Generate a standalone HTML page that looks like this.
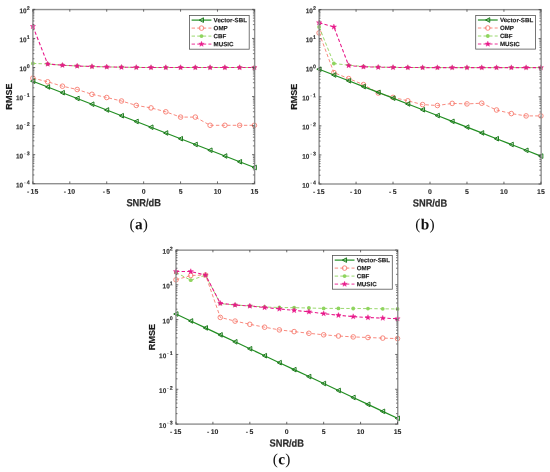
<!DOCTYPE html>
<html><head><meta charset="utf-8"><title>RMSE vs SNR</title>
<style>html,body{margin:0;padding:0;background:#fff;}body{width:550px;height:472px;overflow:hidden;}svg{display:block;}</style>
</head><body>
<svg width="550" height="472" viewBox="0 0 550 472"><rect width="550" height="472" fill="#fff"/><polyline points="32.90,78.10 47.67,81.80 62.43,86.20 77.20,89.50 91.97,94.30 106.73,97.50 121.50,101.00 136.27,105.40 151.03,107.90 165.80,111.80 180.57,117.10 195.33,117.10 210.10,125.30 224.87,125.30 239.63,125.30 254.40,125.30" fill="none" stroke="#f77d70" stroke-width="0.9" stroke-dasharray="3.4 2.2"/><circle cx="32.90" cy="78.10" r="2.3" fill="none" stroke="#f77d70" stroke-width="0.9"/><circle cx="47.67" cy="81.80" r="2.3" fill="none" stroke="#f77d70" stroke-width="0.9"/><circle cx="62.43" cy="86.20" r="2.3" fill="none" stroke="#f77d70" stroke-width="0.9"/><circle cx="77.20" cy="89.50" r="2.3" fill="none" stroke="#f77d70" stroke-width="0.9"/><circle cx="91.97" cy="94.30" r="2.3" fill="none" stroke="#f77d70" stroke-width="0.9"/><circle cx="106.73" cy="97.50" r="2.3" fill="none" stroke="#f77d70" stroke-width="0.9"/><circle cx="121.50" cy="101.00" r="2.3" fill="none" stroke="#f77d70" stroke-width="0.9"/><circle cx="136.27" cy="105.40" r="2.3" fill="none" stroke="#f77d70" stroke-width="0.9"/><circle cx="151.03" cy="107.90" r="2.3" fill="none" stroke="#f77d70" stroke-width="0.9"/><circle cx="165.80" cy="111.80" r="2.3" fill="none" stroke="#f77d70" stroke-width="0.9"/><circle cx="180.57" cy="117.10" r="2.3" fill="none" stroke="#f77d70" stroke-width="0.9"/><circle cx="195.33" cy="117.10" r="2.3" fill="none" stroke="#f77d70" stroke-width="0.9"/><circle cx="210.10" cy="125.30" r="2.3" fill="none" stroke="#f77d70" stroke-width="0.9"/><circle cx="224.87" cy="125.30" r="2.3" fill="none" stroke="#f77d70" stroke-width="0.9"/><circle cx="239.63" cy="125.30" r="2.3" fill="none" stroke="#f77d70" stroke-width="0.9"/><circle cx="254.40" cy="125.30" r="2.3" fill="none" stroke="#f77d70" stroke-width="0.9"/><polyline points="32.90,63.40 47.67,64.00 62.43,65.20 77.20,66.00 91.97,66.50 106.73,66.90 121.50,67.20 136.27,67.40 151.03,67.50 165.80,67.50 180.57,67.50 195.33,67.50 210.10,67.50 224.87,67.50 239.63,67.50 254.40,67.50" fill="none" stroke="#8fd45e" stroke-width="0.9" stroke-dasharray="3.4 2.2"/><circle cx="32.90" cy="63.40" r="1.9" fill="#8fd45e"/><circle cx="47.67" cy="64.00" r="1.9" fill="#8fd45e"/><circle cx="62.43" cy="65.20" r="1.9" fill="#8fd45e"/><circle cx="77.20" cy="66.00" r="1.9" fill="#8fd45e"/><circle cx="91.97" cy="66.50" r="1.9" fill="#8fd45e"/><circle cx="106.73" cy="66.90" r="1.9" fill="#8fd45e"/><circle cx="121.50" cy="67.20" r="1.9" fill="#8fd45e"/><circle cx="136.27" cy="67.40" r="1.9" fill="#8fd45e"/><circle cx="151.03" cy="67.50" r="1.9" fill="#8fd45e"/><circle cx="165.80" cy="67.50" r="1.9" fill="#8fd45e"/><circle cx="180.57" cy="67.50" r="1.9" fill="#8fd45e"/><circle cx="195.33" cy="67.50" r="1.9" fill="#8fd45e"/><circle cx="210.10" cy="67.50" r="1.9" fill="#8fd45e"/><circle cx="224.87" cy="67.50" r="1.9" fill="#8fd45e"/><circle cx="239.63" cy="67.50" r="1.9" fill="#8fd45e"/><circle cx="254.40" cy="67.50" r="1.9" fill="#8fd45e"/><polyline points="32.90,26.40 47.67,64.00 62.43,65.20 77.20,66.00 91.97,66.50 106.73,66.90 121.50,67.20 136.27,67.40 151.03,67.50 165.80,67.50 180.57,67.50 195.33,67.50 210.10,67.50 224.87,67.50 239.63,67.50 254.40,67.50" fill="none" stroke="#e8198a" stroke-width="1.1" stroke-dasharray="3.4 2.2"/><path d="M32.90,23.60 L33.59,25.45 L35.56,25.53 L34.02,26.76 L34.55,28.67 L32.90,27.58 L31.25,28.67 L31.78,26.76 L30.24,25.53 L32.21,25.45Z" fill="#e8198a" stroke="#e8198a" stroke-width="0.4"/><path d="M47.67,61.20 L48.36,63.05 L50.33,63.13 L48.79,64.36 L49.31,66.27 L47.67,65.18 L46.02,66.27 L46.55,64.36 L45.00,63.13 L46.98,63.05Z" fill="#e8198a" stroke="#e8198a" stroke-width="0.4"/><path d="M62.43,62.40 L63.12,64.25 L65.10,64.33 L63.55,65.56 L64.08,67.47 L62.43,66.38 L60.79,67.47 L61.31,65.56 L59.77,64.33 L61.74,64.25Z" fill="#e8198a" stroke="#e8198a" stroke-width="0.4"/><path d="M77.20,63.20 L77.89,65.05 L79.86,65.13 L78.32,66.36 L78.85,68.27 L77.20,67.18 L75.55,68.27 L76.08,66.36 L74.54,65.13 L76.51,65.05Z" fill="#e8198a" stroke="#e8198a" stroke-width="0.4"/><path d="M91.97,63.70 L92.66,65.55 L94.63,65.63 L93.09,66.86 L93.61,68.77 L91.97,67.68 L90.32,68.77 L90.85,66.86 L89.30,65.63 L91.28,65.55Z" fill="#e8198a" stroke="#e8198a" stroke-width="0.4"/><path d="M106.73,64.10 L107.42,65.95 L109.40,66.03 L107.85,67.26 L108.38,69.17 L106.73,68.08 L105.09,69.17 L105.61,67.26 L104.07,66.03 L106.04,65.95Z" fill="#e8198a" stroke="#e8198a" stroke-width="0.4"/><path d="M121.50,64.40 L122.19,66.25 L124.16,66.33 L122.62,67.56 L123.15,69.47 L121.50,68.38 L119.85,69.47 L120.38,67.56 L118.84,66.33 L120.81,66.25Z" fill="#e8198a" stroke="#e8198a" stroke-width="0.4"/><path d="M136.27,64.60 L136.96,66.45 L138.93,66.53 L137.39,67.76 L137.91,69.67 L136.27,68.58 L134.62,69.67 L135.15,67.76 L133.60,66.53 L135.58,66.45Z" fill="#e8198a" stroke="#e8198a" stroke-width="0.4"/><path d="M151.03,64.70 L151.72,66.55 L153.70,66.63 L152.15,67.86 L152.68,69.77 L151.03,68.68 L149.39,69.77 L149.91,67.86 L148.37,66.63 L150.34,66.55Z" fill="#e8198a" stroke="#e8198a" stroke-width="0.4"/><path d="M165.80,64.70 L166.49,66.55 L168.46,66.63 L166.92,67.86 L167.45,69.77 L165.80,68.68 L164.15,69.77 L164.68,67.86 L163.14,66.63 L165.11,66.55Z" fill="#e8198a" stroke="#e8198a" stroke-width="0.4"/><path d="M180.57,64.70 L181.26,66.55 L183.23,66.63 L181.69,67.86 L182.21,69.77 L180.57,68.68 L178.92,69.77 L179.45,67.86 L177.90,66.63 L179.88,66.55Z" fill="#e8198a" stroke="#e8198a" stroke-width="0.4"/><path d="M195.33,64.70 L196.02,66.55 L198.00,66.63 L196.45,67.86 L196.98,69.77 L195.33,68.68 L193.69,69.77 L194.21,67.86 L192.67,66.63 L194.64,66.55Z" fill="#e8198a" stroke="#e8198a" stroke-width="0.4"/><path d="M210.10,64.70 L210.79,66.55 L212.76,66.63 L211.22,67.86 L211.75,69.77 L210.10,68.68 L208.45,69.77 L208.98,67.86 L207.44,66.63 L209.41,66.55Z" fill="#e8198a" stroke="#e8198a" stroke-width="0.4"/><path d="M224.87,64.70 L225.56,66.55 L227.53,66.63 L225.99,67.86 L226.51,69.77 L224.87,68.68 L223.22,69.77 L223.75,67.86 L222.20,66.63 L224.18,66.55Z" fill="#e8198a" stroke="#e8198a" stroke-width="0.4"/><path d="M239.63,64.70 L240.32,66.55 L242.30,66.63 L240.75,67.86 L241.28,69.77 L239.63,68.68 L237.99,69.77 L238.51,67.86 L236.97,66.63 L238.94,66.55Z" fill="#e8198a" stroke="#e8198a" stroke-width="0.4"/><path d="M254.40,64.70 L255.09,66.55 L257.06,66.63 L255.52,67.86 L256.05,69.77 L254.40,68.68 L252.75,69.77 L253.28,67.86 L251.74,66.63 L253.71,66.55Z" fill="#e8198a" stroke="#e8198a" stroke-width="0.4"/><polyline points="32.90,81.20 47.67,86.95 62.43,92.71 77.20,98.46 91.97,104.21 106.73,109.97 121.50,115.72 136.27,121.47 151.03,127.23 165.80,132.98 180.57,138.73 195.33,144.49 210.10,150.24 224.87,155.99 239.63,161.75 254.40,167.50" fill="none" stroke="#228e22" stroke-width="1.2"/><path d="M30.60,81.20 L34.85,78.90 L34.85,83.50Z" fill="none" stroke="#1d7a1d" stroke-width="1.0"/><path d="M45.37,86.95 L49.62,84.65 L49.62,89.25Z" fill="none" stroke="#1d7a1d" stroke-width="1.0"/><path d="M60.13,92.71 L64.39,90.41 L64.39,95.01Z" fill="none" stroke="#1d7a1d" stroke-width="1.0"/><path d="M74.90,98.46 L79.15,96.16 L79.15,100.76Z" fill="none" stroke="#1d7a1d" stroke-width="1.0"/><path d="M89.67,104.21 L93.92,101.91 L93.92,106.51Z" fill="none" stroke="#1d7a1d" stroke-width="1.0"/><path d="M104.43,109.97 L108.69,107.67 L108.69,112.27Z" fill="none" stroke="#1d7a1d" stroke-width="1.0"/><path d="M119.20,115.72 L123.45,113.42 L123.45,118.02Z" fill="none" stroke="#1d7a1d" stroke-width="1.0"/><path d="M133.97,121.47 L138.22,119.17 L138.22,123.77Z" fill="none" stroke="#1d7a1d" stroke-width="1.0"/><path d="M148.73,127.23 L152.99,124.93 L152.99,129.53Z" fill="none" stroke="#1d7a1d" stroke-width="1.0"/><path d="M163.50,132.98 L167.76,130.68 L167.76,135.28Z" fill="none" stroke="#1d7a1d" stroke-width="1.0"/><path d="M178.27,138.73 L182.52,136.43 L182.52,141.03Z" fill="none" stroke="#1d7a1d" stroke-width="1.0"/><path d="M193.03,144.49 L197.29,142.19 L197.29,146.79Z" fill="none" stroke="#1d7a1d" stroke-width="1.0"/><path d="M207.80,150.24 L212.06,147.94 L212.06,152.54Z" fill="none" stroke="#1d7a1d" stroke-width="1.0"/><path d="M222.57,155.99 L226.82,153.69 L226.82,158.29Z" fill="none" stroke="#1d7a1d" stroke-width="1.0"/><path d="M237.33,161.75 L241.59,159.45 L241.59,164.05Z" fill="none" stroke="#1d7a1d" stroke-width="1.0"/><path d="M252.10,167.50 L256.36,165.20 L256.36,169.80Z" fill="none" stroke="#1d7a1d" stroke-width="1.0"/><rect x="32.90" y="9.55" width="221.75" height="174.15" fill="none" stroke="#909090" stroke-width="1.4"/><line x1="32.90" y1="183.70" x2="32.90" y2="181.40" stroke="#444" stroke-width="0.8"/><line x1="32.90" y1="9.40" x2="32.90" y2="11.70" stroke="#444" stroke-width="0.8"/><line x1="69.82" y1="183.70" x2="69.82" y2="181.40" stroke="#444" stroke-width="0.8"/><line x1="69.82" y1="9.40" x2="69.82" y2="11.70" stroke="#444" stroke-width="0.8"/><line x1="106.73" y1="183.70" x2="106.73" y2="181.40" stroke="#444" stroke-width="0.8"/><line x1="106.73" y1="9.40" x2="106.73" y2="11.70" stroke="#444" stroke-width="0.8"/><line x1="143.65" y1="183.70" x2="143.65" y2="181.40" stroke="#444" stroke-width="0.8"/><line x1="143.65" y1="9.40" x2="143.65" y2="11.70" stroke="#444" stroke-width="0.8"/><line x1="180.57" y1="183.70" x2="180.57" y2="181.40" stroke="#444" stroke-width="0.8"/><line x1="180.57" y1="9.40" x2="180.57" y2="11.70" stroke="#444" stroke-width="0.8"/><line x1="217.48" y1="183.70" x2="217.48" y2="181.40" stroke="#444" stroke-width="0.8"/><line x1="217.48" y1="9.40" x2="217.48" y2="11.70" stroke="#444" stroke-width="0.8"/><line x1="254.40" y1="183.70" x2="254.40" y2="181.40" stroke="#444" stroke-width="0.8"/><line x1="254.40" y1="9.40" x2="254.40" y2="11.70" stroke="#444" stroke-width="0.8"/><line x1="32.90" y1="183.70" x2="35.20" y2="183.70" stroke="#444" stroke-width="0.8"/><line x1="254.40" y1="183.70" x2="252.10" y2="183.70" stroke="#444" stroke-width="0.8"/><line x1="32.90" y1="174.96" x2="34.40" y2="174.96" stroke="#444" stroke-width="0.7"/><line x1="254.40" y1="174.96" x2="252.90" y2="174.96" stroke="#444" stroke-width="0.7"/><line x1="32.90" y1="169.84" x2="34.40" y2="169.84" stroke="#444" stroke-width="0.7"/><line x1="254.40" y1="169.84" x2="252.90" y2="169.84" stroke="#444" stroke-width="0.7"/><line x1="32.90" y1="166.21" x2="34.40" y2="166.21" stroke="#444" stroke-width="0.7"/><line x1="254.40" y1="166.21" x2="252.90" y2="166.21" stroke="#444" stroke-width="0.7"/><line x1="32.90" y1="163.39" x2="34.40" y2="163.39" stroke="#444" stroke-width="0.7"/><line x1="254.40" y1="163.39" x2="252.90" y2="163.39" stroke="#444" stroke-width="0.7"/><line x1="32.90" y1="161.09" x2="34.40" y2="161.09" stroke="#444" stroke-width="0.7"/><line x1="254.40" y1="161.09" x2="252.90" y2="161.09" stroke="#444" stroke-width="0.7"/><line x1="32.90" y1="159.15" x2="34.40" y2="159.15" stroke="#444" stroke-width="0.7"/><line x1="254.40" y1="159.15" x2="252.90" y2="159.15" stroke="#444" stroke-width="0.7"/><line x1="32.90" y1="157.47" x2="34.40" y2="157.47" stroke="#444" stroke-width="0.7"/><line x1="254.40" y1="157.47" x2="252.90" y2="157.47" stroke="#444" stroke-width="0.7"/><line x1="32.90" y1="155.98" x2="34.40" y2="155.98" stroke="#444" stroke-width="0.7"/><line x1="254.40" y1="155.98" x2="252.90" y2="155.98" stroke="#444" stroke-width="0.7"/><line x1="32.90" y1="154.65" x2="35.20" y2="154.65" stroke="#444" stroke-width="0.8"/><line x1="254.40" y1="154.65" x2="252.10" y2="154.65" stroke="#444" stroke-width="0.8"/><line x1="32.90" y1="145.91" x2="34.40" y2="145.91" stroke="#444" stroke-width="0.7"/><line x1="254.40" y1="145.91" x2="252.90" y2="145.91" stroke="#444" stroke-width="0.7"/><line x1="32.90" y1="140.79" x2="34.40" y2="140.79" stroke="#444" stroke-width="0.7"/><line x1="254.40" y1="140.79" x2="252.90" y2="140.79" stroke="#444" stroke-width="0.7"/><line x1="32.90" y1="137.16" x2="34.40" y2="137.16" stroke="#444" stroke-width="0.7"/><line x1="254.40" y1="137.16" x2="252.90" y2="137.16" stroke="#444" stroke-width="0.7"/><line x1="32.90" y1="134.34" x2="34.40" y2="134.34" stroke="#444" stroke-width="0.7"/><line x1="254.40" y1="134.34" x2="252.90" y2="134.34" stroke="#444" stroke-width="0.7"/><line x1="32.90" y1="132.04" x2="34.40" y2="132.04" stroke="#444" stroke-width="0.7"/><line x1="254.40" y1="132.04" x2="252.90" y2="132.04" stroke="#444" stroke-width="0.7"/><line x1="32.90" y1="130.10" x2="34.40" y2="130.10" stroke="#444" stroke-width="0.7"/><line x1="254.40" y1="130.10" x2="252.90" y2="130.10" stroke="#444" stroke-width="0.7"/><line x1="32.90" y1="128.42" x2="34.40" y2="128.42" stroke="#444" stroke-width="0.7"/><line x1="254.40" y1="128.42" x2="252.90" y2="128.42" stroke="#444" stroke-width="0.7"/><line x1="32.90" y1="126.93" x2="34.40" y2="126.93" stroke="#444" stroke-width="0.7"/><line x1="254.40" y1="126.93" x2="252.90" y2="126.93" stroke="#444" stroke-width="0.7"/><line x1="32.90" y1="125.60" x2="35.20" y2="125.60" stroke="#444" stroke-width="0.8"/><line x1="254.40" y1="125.60" x2="252.10" y2="125.60" stroke="#444" stroke-width="0.8"/><line x1="32.90" y1="116.86" x2="34.40" y2="116.86" stroke="#444" stroke-width="0.7"/><line x1="254.40" y1="116.86" x2="252.90" y2="116.86" stroke="#444" stroke-width="0.7"/><line x1="32.90" y1="111.74" x2="34.40" y2="111.74" stroke="#444" stroke-width="0.7"/><line x1="254.40" y1="111.74" x2="252.90" y2="111.74" stroke="#444" stroke-width="0.7"/><line x1="32.90" y1="108.11" x2="34.40" y2="108.11" stroke="#444" stroke-width="0.7"/><line x1="254.40" y1="108.11" x2="252.90" y2="108.11" stroke="#444" stroke-width="0.7"/><line x1="32.90" y1="105.29" x2="34.40" y2="105.29" stroke="#444" stroke-width="0.7"/><line x1="254.40" y1="105.29" x2="252.90" y2="105.29" stroke="#444" stroke-width="0.7"/><line x1="32.90" y1="102.99" x2="34.40" y2="102.99" stroke="#444" stroke-width="0.7"/><line x1="254.40" y1="102.99" x2="252.90" y2="102.99" stroke="#444" stroke-width="0.7"/><line x1="32.90" y1="101.05" x2="34.40" y2="101.05" stroke="#444" stroke-width="0.7"/><line x1="254.40" y1="101.05" x2="252.90" y2="101.05" stroke="#444" stroke-width="0.7"/><line x1="32.90" y1="99.37" x2="34.40" y2="99.37" stroke="#444" stroke-width="0.7"/><line x1="254.40" y1="99.37" x2="252.90" y2="99.37" stroke="#444" stroke-width="0.7"/><line x1="32.90" y1="97.88" x2="34.40" y2="97.88" stroke="#444" stroke-width="0.7"/><line x1="254.40" y1="97.88" x2="252.90" y2="97.88" stroke="#444" stroke-width="0.7"/><line x1="32.90" y1="96.55" x2="35.20" y2="96.55" stroke="#444" stroke-width="0.8"/><line x1="254.40" y1="96.55" x2="252.10" y2="96.55" stroke="#444" stroke-width="0.8"/><line x1="32.90" y1="87.81" x2="34.40" y2="87.81" stroke="#444" stroke-width="0.7"/><line x1="254.40" y1="87.81" x2="252.90" y2="87.81" stroke="#444" stroke-width="0.7"/><line x1="32.90" y1="82.69" x2="34.40" y2="82.69" stroke="#444" stroke-width="0.7"/><line x1="254.40" y1="82.69" x2="252.90" y2="82.69" stroke="#444" stroke-width="0.7"/><line x1="32.90" y1="79.06" x2="34.40" y2="79.06" stroke="#444" stroke-width="0.7"/><line x1="254.40" y1="79.06" x2="252.90" y2="79.06" stroke="#444" stroke-width="0.7"/><line x1="32.90" y1="76.24" x2="34.40" y2="76.24" stroke="#444" stroke-width="0.7"/><line x1="254.40" y1="76.24" x2="252.90" y2="76.24" stroke="#444" stroke-width="0.7"/><line x1="32.90" y1="73.94" x2="34.40" y2="73.94" stroke="#444" stroke-width="0.7"/><line x1="254.40" y1="73.94" x2="252.90" y2="73.94" stroke="#444" stroke-width="0.7"/><line x1="32.90" y1="72.00" x2="34.40" y2="72.00" stroke="#444" stroke-width="0.7"/><line x1="254.40" y1="72.00" x2="252.90" y2="72.00" stroke="#444" stroke-width="0.7"/><line x1="32.90" y1="70.32" x2="34.40" y2="70.32" stroke="#444" stroke-width="0.7"/><line x1="254.40" y1="70.32" x2="252.90" y2="70.32" stroke="#444" stroke-width="0.7"/><line x1="32.90" y1="68.83" x2="34.40" y2="68.83" stroke="#444" stroke-width="0.7"/><line x1="254.40" y1="68.83" x2="252.90" y2="68.83" stroke="#444" stroke-width="0.7"/><line x1="32.90" y1="67.50" x2="35.20" y2="67.50" stroke="#444" stroke-width="0.8"/><line x1="254.40" y1="67.50" x2="252.10" y2="67.50" stroke="#444" stroke-width="0.8"/><line x1="32.90" y1="58.76" x2="34.40" y2="58.76" stroke="#444" stroke-width="0.7"/><line x1="254.40" y1="58.76" x2="252.90" y2="58.76" stroke="#444" stroke-width="0.7"/><line x1="32.90" y1="53.64" x2="34.40" y2="53.64" stroke="#444" stroke-width="0.7"/><line x1="254.40" y1="53.64" x2="252.90" y2="53.64" stroke="#444" stroke-width="0.7"/><line x1="32.90" y1="50.01" x2="34.40" y2="50.01" stroke="#444" stroke-width="0.7"/><line x1="254.40" y1="50.01" x2="252.90" y2="50.01" stroke="#444" stroke-width="0.7"/><line x1="32.90" y1="47.19" x2="34.40" y2="47.19" stroke="#444" stroke-width="0.7"/><line x1="254.40" y1="47.19" x2="252.90" y2="47.19" stroke="#444" stroke-width="0.7"/><line x1="32.90" y1="44.89" x2="34.40" y2="44.89" stroke="#444" stroke-width="0.7"/><line x1="254.40" y1="44.89" x2="252.90" y2="44.89" stroke="#444" stroke-width="0.7"/><line x1="32.90" y1="42.95" x2="34.40" y2="42.95" stroke="#444" stroke-width="0.7"/><line x1="254.40" y1="42.95" x2="252.90" y2="42.95" stroke="#444" stroke-width="0.7"/><line x1="32.90" y1="41.27" x2="34.40" y2="41.27" stroke="#444" stroke-width="0.7"/><line x1="254.40" y1="41.27" x2="252.90" y2="41.27" stroke="#444" stroke-width="0.7"/><line x1="32.90" y1="39.78" x2="34.40" y2="39.78" stroke="#444" stroke-width="0.7"/><line x1="254.40" y1="39.78" x2="252.90" y2="39.78" stroke="#444" stroke-width="0.7"/><line x1="32.90" y1="38.45" x2="35.20" y2="38.45" stroke="#444" stroke-width="0.8"/><line x1="254.40" y1="38.45" x2="252.10" y2="38.45" stroke="#444" stroke-width="0.8"/><line x1="32.90" y1="29.71" x2="34.40" y2="29.71" stroke="#444" stroke-width="0.7"/><line x1="254.40" y1="29.71" x2="252.90" y2="29.71" stroke="#444" stroke-width="0.7"/><line x1="32.90" y1="24.59" x2="34.40" y2="24.59" stroke="#444" stroke-width="0.7"/><line x1="254.40" y1="24.59" x2="252.90" y2="24.59" stroke="#444" stroke-width="0.7"/><line x1="32.90" y1="20.96" x2="34.40" y2="20.96" stroke="#444" stroke-width="0.7"/><line x1="254.40" y1="20.96" x2="252.90" y2="20.96" stroke="#444" stroke-width="0.7"/><line x1="32.90" y1="18.14" x2="34.40" y2="18.14" stroke="#444" stroke-width="0.7"/><line x1="254.40" y1="18.14" x2="252.90" y2="18.14" stroke="#444" stroke-width="0.7"/><line x1="32.90" y1="15.84" x2="34.40" y2="15.84" stroke="#444" stroke-width="0.7"/><line x1="254.40" y1="15.84" x2="252.90" y2="15.84" stroke="#444" stroke-width="0.7"/><line x1="32.90" y1="13.90" x2="34.40" y2="13.90" stroke="#444" stroke-width="0.7"/><line x1="254.40" y1="13.90" x2="252.90" y2="13.90" stroke="#444" stroke-width="0.7"/><line x1="32.90" y1="12.22" x2="34.40" y2="12.22" stroke="#444" stroke-width="0.7"/><line x1="254.40" y1="12.22" x2="252.90" y2="12.22" stroke="#444" stroke-width="0.7"/><line x1="32.90" y1="10.73" x2="34.40" y2="10.73" stroke="#444" stroke-width="0.7"/><line x1="254.40" y1="10.73" x2="252.90" y2="10.73" stroke="#444" stroke-width="0.7"/><line x1="32.90" y1="9.40" x2="35.20" y2="9.40" stroke="#444" stroke-width="0.8"/><line x1="254.40" y1="9.40" x2="252.10" y2="9.40" stroke="#444" stroke-width="0.8"/><text x="23.10" y="187.50" text-anchor="end" font-family="'Liberation Sans', Arial, Helvetica, sans-serif" font-weight="bold" fill="#333" stroke="#333" stroke-width="0.15" font-size="6.9" textLength="7.1" lengthAdjust="spacingAndGlyphs" transform="rotate(0.25 23.10 187.50)">10</text><text x="24.00" y="184.20" font-family="'Liberation Sans', Arial, Helvetica, sans-serif" font-weight="bold" fill="#888" font-size="5.3" transform="rotate(0.25 24.00 184.20)">-</text><text x="26.70" y="184.20" font-family="'Liberation Sans', Arial, Helvetica, sans-serif" font-weight="bold" fill="#333" stroke="#333" stroke-width="0.15" font-size="5.3" transform="rotate(0.25 26.70 184.20)">4</text><text x="23.10" y="158.45" text-anchor="end" font-family="'Liberation Sans', Arial, Helvetica, sans-serif" font-weight="bold" fill="#333" stroke="#333" stroke-width="0.15" font-size="6.9" textLength="7.1" lengthAdjust="spacingAndGlyphs" transform="rotate(0.25 23.10 158.45)">10</text><text x="24.00" y="155.15" font-family="'Liberation Sans', Arial, Helvetica, sans-serif" font-weight="bold" fill="#888" font-size="5.3" transform="rotate(0.25 24.00 155.15)">-</text><text x="26.70" y="155.15" font-family="'Liberation Sans', Arial, Helvetica, sans-serif" font-weight="bold" fill="#333" stroke="#333" stroke-width="0.15" font-size="5.3" transform="rotate(0.25 26.70 155.15)">3</text><text x="23.10" y="129.40" text-anchor="end" font-family="'Liberation Sans', Arial, Helvetica, sans-serif" font-weight="bold" fill="#333" stroke="#333" stroke-width="0.15" font-size="6.9" textLength="7.1" lengthAdjust="spacingAndGlyphs" transform="rotate(0.25 23.10 129.40)">10</text><text x="24.00" y="126.10" font-family="'Liberation Sans', Arial, Helvetica, sans-serif" font-weight="bold" fill="#888" font-size="5.3" transform="rotate(0.25 24.00 126.10)">-</text><text x="26.70" y="126.10" font-family="'Liberation Sans', Arial, Helvetica, sans-serif" font-weight="bold" fill="#333" stroke="#333" stroke-width="0.15" font-size="5.3" transform="rotate(0.25 26.70 126.10)">2</text><text x="23.10" y="100.35" text-anchor="end" font-family="'Liberation Sans', Arial, Helvetica, sans-serif" font-weight="bold" fill="#333" stroke="#333" stroke-width="0.15" font-size="6.9" textLength="7.1" lengthAdjust="spacingAndGlyphs" transform="rotate(0.25 23.10 100.35)">10</text><text x="24.00" y="97.05" font-family="'Liberation Sans', Arial, Helvetica, sans-serif" font-weight="bold" fill="#888" font-size="5.3" transform="rotate(0.25 24.00 97.05)">-</text><text x="26.70" y="97.05" font-family="'Liberation Sans', Arial, Helvetica, sans-serif" font-weight="bold" fill="#333" stroke="#333" stroke-width="0.15" font-size="5.3" transform="rotate(0.25 26.70 97.05)">1</text><text x="26.60" y="71.30" text-anchor="end" font-family="'Liberation Sans', Arial, Helvetica, sans-serif" font-weight="bold" fill="#333" stroke="#333" stroke-width="0.15" font-size="6.9" textLength="7.1" lengthAdjust="spacingAndGlyphs" transform="rotate(0.25 26.60 71.30)">10</text><text x="26.70" y="68.00" font-family="'Liberation Sans', Arial, Helvetica, sans-serif" font-weight="bold" fill="#333" stroke="#333" stroke-width="0.15" font-size="5.3" transform="rotate(0.25 26.70 68.00)">0</text><text x="26.60" y="42.25" text-anchor="end" font-family="'Liberation Sans', Arial, Helvetica, sans-serif" font-weight="bold" fill="#333" stroke="#333" stroke-width="0.15" font-size="6.9" textLength="7.1" lengthAdjust="spacingAndGlyphs" transform="rotate(0.25 26.60 42.25)">10</text><text x="26.70" y="38.95" font-family="'Liberation Sans', Arial, Helvetica, sans-serif" font-weight="bold" fill="#333" stroke="#333" stroke-width="0.15" font-size="5.3" transform="rotate(0.25 26.70 38.95)">1</text><text x="26.60" y="13.20" text-anchor="end" font-family="'Liberation Sans', Arial, Helvetica, sans-serif" font-weight="bold" fill="#333" stroke="#333" stroke-width="0.15" font-size="6.9" textLength="7.1" lengthAdjust="spacingAndGlyphs" transform="rotate(0.25 26.60 13.20)">10</text><text x="26.70" y="9.90" font-family="'Liberation Sans', Arial, Helvetica, sans-serif" font-weight="bold" fill="#333" stroke="#333" stroke-width="0.15" font-size="5.3" transform="rotate(0.25 26.70 9.90)">2</text><text x="32.60" y="193.70" text-anchor="middle" font-family="'Liberation Sans', Arial, Helvetica, sans-serif" font-weight="bold" font-size="6.9" fill="#2a2a2a" stroke="#2a2a2a" stroke-width="0.1" transform="rotate(0.25 32.60 193.70)"><tspan fill="#777">-</tspan><tspan dx="1.4">15</tspan></text><text x="69.52" y="193.70" text-anchor="middle" font-family="'Liberation Sans', Arial, Helvetica, sans-serif" font-weight="bold" font-size="6.9" fill="#2a2a2a" stroke="#2a2a2a" stroke-width="0.1" transform="rotate(0.25 69.52 193.70)"><tspan fill="#777">-</tspan><tspan dx="1.4">10</tspan></text><text x="106.43" y="193.70" text-anchor="middle" font-family="'Liberation Sans', Arial, Helvetica, sans-serif" font-weight="bold" font-size="6.9" fill="#2a2a2a" stroke="#2a2a2a" stroke-width="0.1" transform="rotate(0.25 106.43 193.70)"><tspan fill="#777">-</tspan><tspan dx="1.4">5</tspan></text><text x="143.65" y="193.70" text-anchor="middle" font-family="'Liberation Sans', Arial, Helvetica, sans-serif" font-weight="bold" font-size="6.9" fill="#2a2a2a" stroke="#2a2a2a" stroke-width="0.1" transform="rotate(0.25 143.65 193.70)">0</text><text x="180.57" y="193.70" text-anchor="middle" font-family="'Liberation Sans', Arial, Helvetica, sans-serif" font-weight="bold" font-size="6.9" fill="#2a2a2a" stroke="#2a2a2a" stroke-width="0.1" transform="rotate(0.25 180.57 193.70)">5</text><text x="217.48" y="193.70" text-anchor="middle" font-family="'Liberation Sans', Arial, Helvetica, sans-serif" font-weight="bold" font-size="6.9" fill="#2a2a2a" stroke="#2a2a2a" stroke-width="0.1" transform="rotate(0.25 217.48 193.70)">10</text><text x="254.40" y="193.70" text-anchor="middle" font-family="'Liberation Sans', Arial, Helvetica, sans-serif" font-weight="bold" font-size="6.9" fill="#2a2a2a" stroke="#2a2a2a" stroke-width="0.1" transform="rotate(0.25 254.40 193.70)">15</text><text x="143.65" y="206.30" text-anchor="middle" font-family="'Liberation Sans', Arial, Helvetica, sans-serif" font-weight="bold" font-size="10.4" fill="#2a2a2a" stroke="#2a2a2a" stroke-width="0.2" textLength="34.4" lengthAdjust="spacingAndGlyphs" transform="rotate(0.25 143.65 206.30)">SNR/dB</text><text transform="translate(12.20,96.55) rotate(-90)" text-anchor="middle" font-family="'Liberation Sans', Arial, Helvetica, sans-serif" font-weight="bold" font-size="9.9" fill="#1a1a1a" stroke="#1a1a1a" stroke-width="0.2" textLength="26.2" lengthAdjust="spacingAndGlyphs">RMSE</text><rect x="189.40" y="15.50" width="59.8" height="33.7" fill="#fff" stroke="#555" stroke-width="0.8"/><line x1="191.60" y1="20.10" x2="211.40" y2="20.10" stroke="#228e22" stroke-width="1.2"/><path d="M199.20,20.10 L203.46,17.80 L203.46,22.40Z" fill="none" stroke="#1d7a1d" stroke-width="1.0"/><text x="213.60" y="22.20" font-family="'Liberation Sans', Arial, Helvetica, sans-serif" font-weight="bold" font-size="6.2" fill="#222" stroke="#222" stroke-width="0.12" transform="rotate(0.25 213.60 22.20)">Vector-SBL</text><line x1="191.60" y1="28.10" x2="211.40" y2="28.10" stroke="#f77d70" stroke-width="0.9" stroke-dasharray="3.4 2.2"/><circle cx="201.50" cy="28.10" r="2.3" fill="none" stroke="#f77d70" stroke-width="0.9"/><text x="213.60" y="30.20" font-family="'Liberation Sans', Arial, Helvetica, sans-serif" font-weight="bold" font-size="6.2" fill="#222" stroke="#222" stroke-width="0.12" transform="rotate(0.25 213.60 30.20)">OMP</text><line x1="191.60" y1="36.10" x2="211.40" y2="36.10" stroke="#8fd45e" stroke-width="0.9" stroke-dasharray="3.4 2.2"/><circle cx="201.50" cy="36.10" r="1.9" fill="#8fd45e"/><text x="213.60" y="38.20" font-family="'Liberation Sans', Arial, Helvetica, sans-serif" font-weight="bold" font-size="6.2" fill="#222" stroke="#222" stroke-width="0.12" transform="rotate(0.25 213.60 38.20)">CBF</text><line x1="191.60" y1="44.10" x2="211.40" y2="44.10" stroke="#e8198a" stroke-width="0.9" stroke-dasharray="3.4 2.2"/><path d="M201.50,41.30 L202.19,43.15 L204.16,43.23 L202.62,44.46 L203.15,46.37 L201.50,45.28 L199.85,46.37 L200.38,44.46 L198.84,43.23 L200.81,43.15Z" fill="#e8198a" stroke="#e8198a" stroke-width="0.4"/><text x="213.60" y="46.20" font-family="'Liberation Sans', Arial, Helvetica, sans-serif" font-weight="bold" font-size="6.2" fill="#222" stroke="#222" stroke-width="0.12" transform="rotate(0.25 213.60 46.20)">MUSIC</text><text x="138.90" y="229.30" text-anchor="middle" font-family="'Liberation Serif', 'Times New Roman', serif" font-size="15.4" fill="#111" letter-spacing="0.3" transform="rotate(0.25 138.90 229.30)">(<tspan font-weight="bold" font-size="15.3">a</tspan>)</text><polyline points="319.10,32.90 333.89,72.60 348.67,78.60 363.46,84.60 378.25,93.00 393.03,97.40 407.82,100.80 422.61,104.60 437.39,105.50 452.18,103.40 466.97,103.90 481.75,103.20 496.54,110.00 511.33,113.60 526.11,115.90 540.90,115.90" fill="none" stroke="#f77d70" stroke-width="0.9" stroke-dasharray="3.4 2.2"/><circle cx="319.10" cy="32.90" r="2.3" fill="none" stroke="#f77d70" stroke-width="0.9"/><circle cx="333.89" cy="72.60" r="2.3" fill="none" stroke="#f77d70" stroke-width="0.9"/><circle cx="348.67" cy="78.60" r="2.3" fill="none" stroke="#f77d70" stroke-width="0.9"/><circle cx="363.46" cy="84.60" r="2.3" fill="none" stroke="#f77d70" stroke-width="0.9"/><circle cx="378.25" cy="93.00" r="2.3" fill="none" stroke="#f77d70" stroke-width="0.9"/><circle cx="393.03" cy="97.40" r="2.3" fill="none" stroke="#f77d70" stroke-width="0.9"/><circle cx="407.82" cy="100.80" r="2.3" fill="none" stroke="#f77d70" stroke-width="0.9"/><circle cx="422.61" cy="104.60" r="2.3" fill="none" stroke="#f77d70" stroke-width="0.9"/><circle cx="437.39" cy="105.50" r="2.3" fill="none" stroke="#f77d70" stroke-width="0.9"/><circle cx="452.18" cy="103.40" r="2.3" fill="none" stroke="#f77d70" stroke-width="0.9"/><circle cx="466.97" cy="103.90" r="2.3" fill="none" stroke="#f77d70" stroke-width="0.9"/><circle cx="481.75" cy="103.20" r="2.3" fill="none" stroke="#f77d70" stroke-width="0.9"/><circle cx="496.54" cy="110.00" r="2.3" fill="none" stroke="#f77d70" stroke-width="0.9"/><circle cx="511.33" cy="113.60" r="2.3" fill="none" stroke="#f77d70" stroke-width="0.9"/><circle cx="526.11" cy="115.90" r="2.3" fill="none" stroke="#f77d70" stroke-width="0.9"/><circle cx="540.90" cy="115.90" r="2.3" fill="none" stroke="#f77d70" stroke-width="0.9"/><polyline points="319.10,26.90 333.89,63.50 348.67,65.20 363.46,66.50 378.25,67.10 393.03,67.30 407.82,67.50 422.61,67.60 437.39,67.60 452.18,67.60 466.97,67.60 481.75,67.60 496.54,67.60 511.33,67.60 526.11,67.60 540.90,67.60" fill="none" stroke="#8fd45e" stroke-width="0.9" stroke-dasharray="3.4 2.2"/><circle cx="319.10" cy="26.90" r="1.9" fill="#8fd45e"/><circle cx="333.89" cy="63.50" r="1.9" fill="#8fd45e"/><circle cx="348.67" cy="65.20" r="1.9" fill="#8fd45e"/><circle cx="363.46" cy="66.50" r="1.9" fill="#8fd45e"/><circle cx="378.25" cy="67.10" r="1.9" fill="#8fd45e"/><circle cx="393.03" cy="67.30" r="1.9" fill="#8fd45e"/><circle cx="407.82" cy="67.50" r="1.9" fill="#8fd45e"/><circle cx="422.61" cy="67.60" r="1.9" fill="#8fd45e"/><circle cx="437.39" cy="67.60" r="1.9" fill="#8fd45e"/><circle cx="452.18" cy="67.60" r="1.9" fill="#8fd45e"/><circle cx="466.97" cy="67.60" r="1.9" fill="#8fd45e"/><circle cx="481.75" cy="67.60" r="1.9" fill="#8fd45e"/><circle cx="496.54" cy="67.60" r="1.9" fill="#8fd45e"/><circle cx="511.33" cy="67.60" r="1.9" fill="#8fd45e"/><circle cx="526.11" cy="67.60" r="1.9" fill="#8fd45e"/><circle cx="540.90" cy="67.60" r="1.9" fill="#8fd45e"/><polyline points="319.10,22.70 333.89,26.90 348.67,65.60 363.46,66.80 378.25,67.20 393.03,67.40 407.82,67.50 422.61,67.60 437.39,67.60 452.18,67.60 466.97,67.60 481.75,67.60 496.54,67.60 511.33,67.60 526.11,67.60 540.90,67.60" fill="none" stroke="#e8198a" stroke-width="1.1" stroke-dasharray="3.4 2.2"/><path d="M319.10,19.90 L319.79,21.75 L321.76,21.83 L320.22,23.06 L320.75,24.97 L319.10,23.88 L317.45,24.97 L317.98,23.06 L316.44,21.83 L318.41,21.75Z" fill="#e8198a" stroke="#e8198a" stroke-width="0.4"/><path d="M333.89,24.10 L334.58,25.95 L336.55,26.03 L335.01,27.26 L335.53,29.17 L333.89,28.08 L332.24,29.17 L332.77,27.26 L331.22,26.03 L333.20,25.95Z" fill="#e8198a" stroke="#e8198a" stroke-width="0.4"/><path d="M348.67,62.80 L349.36,64.65 L351.34,64.73 L349.79,65.96 L350.32,67.87 L348.67,66.78 L347.03,67.87 L347.55,65.96 L346.01,64.73 L347.98,64.65Z" fill="#e8198a" stroke="#e8198a" stroke-width="0.4"/><path d="M363.46,64.00 L364.15,65.85 L366.12,65.93 L364.58,67.16 L365.11,69.07 L363.46,67.98 L361.81,69.07 L362.34,67.16 L360.80,65.93 L362.77,65.85Z" fill="#e8198a" stroke="#e8198a" stroke-width="0.4"/><path d="M378.25,64.40 L378.94,66.25 L380.91,66.33 L379.37,67.56 L379.89,69.47 L378.25,68.38 L376.60,69.47 L377.13,67.56 L375.58,66.33 L377.56,66.25Z" fill="#e8198a" stroke="#e8198a" stroke-width="0.4"/><path d="M393.03,64.60 L393.72,66.45 L395.70,66.53 L394.15,67.76 L394.68,69.67 L393.03,68.58 L391.39,69.67 L391.91,67.76 L390.37,66.53 L392.34,66.45Z" fill="#e8198a" stroke="#e8198a" stroke-width="0.4"/><path d="M407.82,64.70 L408.51,66.55 L410.48,66.63 L408.94,67.86 L409.47,69.77 L407.82,68.68 L406.17,69.77 L406.70,67.86 L405.16,66.63 L407.13,66.55Z" fill="#e8198a" stroke="#e8198a" stroke-width="0.4"/><path d="M422.61,64.80 L423.30,66.65 L425.27,66.73 L423.73,67.96 L424.25,69.87 L422.61,68.78 L420.96,69.87 L421.49,67.96 L419.94,66.73 L421.92,66.65Z" fill="#e8198a" stroke="#e8198a" stroke-width="0.4"/><path d="M437.39,64.80 L438.08,66.65 L440.06,66.73 L438.51,67.96 L439.04,69.87 L437.39,68.78 L435.75,69.87 L436.27,67.96 L434.73,66.73 L436.70,66.65Z" fill="#e8198a" stroke="#e8198a" stroke-width="0.4"/><path d="M452.18,64.80 L452.87,66.65 L454.84,66.73 L453.30,67.96 L453.83,69.87 L452.18,68.78 L450.53,69.87 L451.06,67.96 L449.52,66.73 L451.49,66.65Z" fill="#e8198a" stroke="#e8198a" stroke-width="0.4"/><path d="M466.97,64.80 L467.66,66.65 L469.63,66.73 L468.09,67.96 L468.61,69.87 L466.97,68.78 L465.32,69.87 L465.85,67.96 L464.30,66.73 L466.28,66.65Z" fill="#e8198a" stroke="#e8198a" stroke-width="0.4"/><path d="M481.75,64.80 L482.44,66.65 L484.42,66.73 L482.87,67.96 L483.40,69.87 L481.75,68.78 L480.11,69.87 L480.63,67.96 L479.09,66.73 L481.06,66.65Z" fill="#e8198a" stroke="#e8198a" stroke-width="0.4"/><path d="M496.54,64.80 L497.23,66.65 L499.20,66.73 L497.66,67.96 L498.19,69.87 L496.54,68.78 L494.89,69.87 L495.42,67.96 L493.88,66.73 L495.85,66.65Z" fill="#e8198a" stroke="#e8198a" stroke-width="0.4"/><path d="M511.33,64.80 L512.02,66.65 L513.99,66.73 L512.45,67.96 L512.97,69.87 L511.33,68.78 L509.68,69.87 L510.21,67.96 L508.66,66.73 L510.64,66.65Z" fill="#e8198a" stroke="#e8198a" stroke-width="0.4"/><path d="M526.11,64.80 L526.80,66.65 L528.78,66.73 L527.23,67.96 L527.76,69.87 L526.11,68.78 L524.47,69.87 L524.99,67.96 L523.45,66.73 L525.42,66.65Z" fill="#e8198a" stroke="#e8198a" stroke-width="0.4"/><path d="M540.90,64.80 L541.59,66.65 L543.56,66.73 L542.02,67.96 L542.55,69.87 L540.90,68.78 L539.25,69.87 L539.78,67.96 L538.24,66.73 L540.21,66.65Z" fill="#e8198a" stroke="#e8198a" stroke-width="0.4"/><polyline points="319.10,69.20 333.89,74.99 348.67,80.79 363.46,86.58 378.25,92.37 393.03,98.17 407.82,103.96 422.61,109.75 437.39,115.55 452.18,121.34 466.97,127.13 481.75,132.93 496.54,138.72 511.33,144.51 526.11,150.31 540.90,156.10" fill="none" stroke="#228e22" stroke-width="1.2"/><path d="M316.80,69.20 L321.06,66.90 L321.06,71.50Z" fill="none" stroke="#1d7a1d" stroke-width="1.0"/><path d="M331.59,74.99 L335.84,72.69 L335.84,77.29Z" fill="none" stroke="#1d7a1d" stroke-width="1.0"/><path d="M346.37,80.79 L350.63,78.49 L350.63,83.09Z" fill="none" stroke="#1d7a1d" stroke-width="1.0"/><path d="M361.16,86.58 L365.42,84.28 L365.42,88.88Z" fill="none" stroke="#1d7a1d" stroke-width="1.0"/><path d="M375.95,92.37 L380.20,90.07 L380.20,94.67Z" fill="none" stroke="#1d7a1d" stroke-width="1.0"/><path d="M390.73,98.17 L394.99,95.87 L394.99,100.47Z" fill="none" stroke="#1d7a1d" stroke-width="1.0"/><path d="M405.52,103.96 L409.77,101.66 L409.77,106.26Z" fill="none" stroke="#1d7a1d" stroke-width="1.0"/><path d="M420.31,109.75 L424.56,107.45 L424.56,112.05Z" fill="none" stroke="#1d7a1d" stroke-width="1.0"/><path d="M435.09,115.55 L439.35,113.25 L439.35,117.85Z" fill="none" stroke="#1d7a1d" stroke-width="1.0"/><path d="M449.88,121.34 L454.13,119.04 L454.13,123.64Z" fill="none" stroke="#1d7a1d" stroke-width="1.0"/><path d="M464.67,127.13 L468.92,124.83 L468.92,129.43Z" fill="none" stroke="#1d7a1d" stroke-width="1.0"/><path d="M479.45,132.93 L483.71,130.63 L483.71,135.23Z" fill="none" stroke="#1d7a1d" stroke-width="1.0"/><path d="M494.24,138.72 L498.49,136.42 L498.49,141.02Z" fill="none" stroke="#1d7a1d" stroke-width="1.0"/><path d="M509.03,144.51 L513.28,142.21 L513.28,146.81Z" fill="none" stroke="#1d7a1d" stroke-width="1.0"/><path d="M523.81,150.31 L528.07,148.01 L528.07,152.61Z" fill="none" stroke="#1d7a1d" stroke-width="1.0"/><path d="M538.60,156.10 L542.86,153.80 L542.86,158.40Z" fill="none" stroke="#1d7a1d" stroke-width="1.0"/><rect x="319.10" y="9.65" width="222.05" height="174.35" fill="none" stroke="#909090" stroke-width="1.4"/><line x1="319.10" y1="184.00" x2="319.10" y2="181.70" stroke="#444" stroke-width="0.8"/><line x1="319.10" y1="9.50" x2="319.10" y2="11.80" stroke="#444" stroke-width="0.8"/><line x1="356.07" y1="184.00" x2="356.07" y2="181.70" stroke="#444" stroke-width="0.8"/><line x1="356.07" y1="9.50" x2="356.07" y2="11.80" stroke="#444" stroke-width="0.8"/><line x1="393.03" y1="184.00" x2="393.03" y2="181.70" stroke="#444" stroke-width="0.8"/><line x1="393.03" y1="9.50" x2="393.03" y2="11.80" stroke="#444" stroke-width="0.8"/><line x1="430.00" y1="184.00" x2="430.00" y2="181.70" stroke="#444" stroke-width="0.8"/><line x1="430.00" y1="9.50" x2="430.00" y2="11.80" stroke="#444" stroke-width="0.8"/><line x1="466.97" y1="184.00" x2="466.97" y2="181.70" stroke="#444" stroke-width="0.8"/><line x1="466.97" y1="9.50" x2="466.97" y2="11.80" stroke="#444" stroke-width="0.8"/><line x1="503.93" y1="184.00" x2="503.93" y2="181.70" stroke="#444" stroke-width="0.8"/><line x1="503.93" y1="9.50" x2="503.93" y2="11.80" stroke="#444" stroke-width="0.8"/><line x1="540.90" y1="184.00" x2="540.90" y2="181.70" stroke="#444" stroke-width="0.8"/><line x1="540.90" y1="9.50" x2="540.90" y2="11.80" stroke="#444" stroke-width="0.8"/><line x1="319.10" y1="184.00" x2="321.40" y2="184.00" stroke="#444" stroke-width="0.8"/><line x1="540.90" y1="184.00" x2="538.60" y2="184.00" stroke="#444" stroke-width="0.8"/><line x1="319.10" y1="175.25" x2="320.60" y2="175.25" stroke="#444" stroke-width="0.7"/><line x1="540.90" y1="175.25" x2="539.40" y2="175.25" stroke="#444" stroke-width="0.7"/><line x1="319.10" y1="170.12" x2="320.60" y2="170.12" stroke="#444" stroke-width="0.7"/><line x1="540.90" y1="170.12" x2="539.40" y2="170.12" stroke="#444" stroke-width="0.7"/><line x1="319.10" y1="166.49" x2="320.60" y2="166.49" stroke="#444" stroke-width="0.7"/><line x1="540.90" y1="166.49" x2="539.40" y2="166.49" stroke="#444" stroke-width="0.7"/><line x1="319.10" y1="163.67" x2="320.60" y2="163.67" stroke="#444" stroke-width="0.7"/><line x1="540.90" y1="163.67" x2="539.40" y2="163.67" stroke="#444" stroke-width="0.7"/><line x1="319.10" y1="161.37" x2="320.60" y2="161.37" stroke="#444" stroke-width="0.7"/><line x1="540.90" y1="161.37" x2="539.40" y2="161.37" stroke="#444" stroke-width="0.7"/><line x1="319.10" y1="159.42" x2="320.60" y2="159.42" stroke="#444" stroke-width="0.7"/><line x1="540.90" y1="159.42" x2="539.40" y2="159.42" stroke="#444" stroke-width="0.7"/><line x1="319.10" y1="157.74" x2="320.60" y2="157.74" stroke="#444" stroke-width="0.7"/><line x1="540.90" y1="157.74" x2="539.40" y2="157.74" stroke="#444" stroke-width="0.7"/><line x1="319.10" y1="156.25" x2="320.60" y2="156.25" stroke="#444" stroke-width="0.7"/><line x1="540.90" y1="156.25" x2="539.40" y2="156.25" stroke="#444" stroke-width="0.7"/><line x1="319.10" y1="154.92" x2="321.40" y2="154.92" stroke="#444" stroke-width="0.8"/><line x1="540.90" y1="154.92" x2="538.60" y2="154.92" stroke="#444" stroke-width="0.8"/><line x1="319.10" y1="146.16" x2="320.60" y2="146.16" stroke="#444" stroke-width="0.7"/><line x1="540.90" y1="146.16" x2="539.40" y2="146.16" stroke="#444" stroke-width="0.7"/><line x1="319.10" y1="141.04" x2="320.60" y2="141.04" stroke="#444" stroke-width="0.7"/><line x1="540.90" y1="141.04" x2="539.40" y2="141.04" stroke="#444" stroke-width="0.7"/><line x1="319.10" y1="137.41" x2="320.60" y2="137.41" stroke="#444" stroke-width="0.7"/><line x1="540.90" y1="137.41" x2="539.40" y2="137.41" stroke="#444" stroke-width="0.7"/><line x1="319.10" y1="134.59" x2="320.60" y2="134.59" stroke="#444" stroke-width="0.7"/><line x1="540.90" y1="134.59" x2="539.40" y2="134.59" stroke="#444" stroke-width="0.7"/><line x1="319.10" y1="132.29" x2="320.60" y2="132.29" stroke="#444" stroke-width="0.7"/><line x1="540.90" y1="132.29" x2="539.40" y2="132.29" stroke="#444" stroke-width="0.7"/><line x1="319.10" y1="130.34" x2="320.60" y2="130.34" stroke="#444" stroke-width="0.7"/><line x1="540.90" y1="130.34" x2="539.40" y2="130.34" stroke="#444" stroke-width="0.7"/><line x1="319.10" y1="128.65" x2="320.60" y2="128.65" stroke="#444" stroke-width="0.7"/><line x1="540.90" y1="128.65" x2="539.40" y2="128.65" stroke="#444" stroke-width="0.7"/><line x1="319.10" y1="127.16" x2="320.60" y2="127.16" stroke="#444" stroke-width="0.7"/><line x1="540.90" y1="127.16" x2="539.40" y2="127.16" stroke="#444" stroke-width="0.7"/><line x1="319.10" y1="125.83" x2="321.40" y2="125.83" stroke="#444" stroke-width="0.8"/><line x1="540.90" y1="125.83" x2="538.60" y2="125.83" stroke="#444" stroke-width="0.8"/><line x1="319.10" y1="117.08" x2="320.60" y2="117.08" stroke="#444" stroke-width="0.7"/><line x1="540.90" y1="117.08" x2="539.40" y2="117.08" stroke="#444" stroke-width="0.7"/><line x1="319.10" y1="111.96" x2="320.60" y2="111.96" stroke="#444" stroke-width="0.7"/><line x1="540.90" y1="111.96" x2="539.40" y2="111.96" stroke="#444" stroke-width="0.7"/><line x1="319.10" y1="108.32" x2="320.60" y2="108.32" stroke="#444" stroke-width="0.7"/><line x1="540.90" y1="108.32" x2="539.40" y2="108.32" stroke="#444" stroke-width="0.7"/><line x1="319.10" y1="105.50" x2="320.60" y2="105.50" stroke="#444" stroke-width="0.7"/><line x1="540.90" y1="105.50" x2="539.40" y2="105.50" stroke="#444" stroke-width="0.7"/><line x1="319.10" y1="103.20" x2="320.60" y2="103.20" stroke="#444" stroke-width="0.7"/><line x1="540.90" y1="103.20" x2="539.40" y2="103.20" stroke="#444" stroke-width="0.7"/><line x1="319.10" y1="101.26" x2="320.60" y2="101.26" stroke="#444" stroke-width="0.7"/><line x1="540.90" y1="101.26" x2="539.40" y2="101.26" stroke="#444" stroke-width="0.7"/><line x1="319.10" y1="99.57" x2="320.60" y2="99.57" stroke="#444" stroke-width="0.7"/><line x1="540.90" y1="99.57" x2="539.40" y2="99.57" stroke="#444" stroke-width="0.7"/><line x1="319.10" y1="98.08" x2="320.60" y2="98.08" stroke="#444" stroke-width="0.7"/><line x1="540.90" y1="98.08" x2="539.40" y2="98.08" stroke="#444" stroke-width="0.7"/><line x1="319.10" y1="96.75" x2="321.40" y2="96.75" stroke="#444" stroke-width="0.8"/><line x1="540.90" y1="96.75" x2="538.60" y2="96.75" stroke="#444" stroke-width="0.8"/><line x1="319.10" y1="88.00" x2="320.60" y2="88.00" stroke="#444" stroke-width="0.7"/><line x1="540.90" y1="88.00" x2="539.40" y2="88.00" stroke="#444" stroke-width="0.7"/><line x1="319.10" y1="82.87" x2="320.60" y2="82.87" stroke="#444" stroke-width="0.7"/><line x1="540.90" y1="82.87" x2="539.40" y2="82.87" stroke="#444" stroke-width="0.7"/><line x1="319.10" y1="79.24" x2="320.60" y2="79.24" stroke="#444" stroke-width="0.7"/><line x1="540.90" y1="79.24" x2="539.40" y2="79.24" stroke="#444" stroke-width="0.7"/><line x1="319.10" y1="76.42" x2="320.60" y2="76.42" stroke="#444" stroke-width="0.7"/><line x1="540.90" y1="76.42" x2="539.40" y2="76.42" stroke="#444" stroke-width="0.7"/><line x1="319.10" y1="74.12" x2="320.60" y2="74.12" stroke="#444" stroke-width="0.7"/><line x1="540.90" y1="74.12" x2="539.40" y2="74.12" stroke="#444" stroke-width="0.7"/><line x1="319.10" y1="72.17" x2="320.60" y2="72.17" stroke="#444" stroke-width="0.7"/><line x1="540.90" y1="72.17" x2="539.40" y2="72.17" stroke="#444" stroke-width="0.7"/><line x1="319.10" y1="70.49" x2="320.60" y2="70.49" stroke="#444" stroke-width="0.7"/><line x1="540.90" y1="70.49" x2="539.40" y2="70.49" stroke="#444" stroke-width="0.7"/><line x1="319.10" y1="69.00" x2="320.60" y2="69.00" stroke="#444" stroke-width="0.7"/><line x1="540.90" y1="69.00" x2="539.40" y2="69.00" stroke="#444" stroke-width="0.7"/><line x1="319.10" y1="67.67" x2="321.40" y2="67.67" stroke="#444" stroke-width="0.8"/><line x1="540.90" y1="67.67" x2="538.60" y2="67.67" stroke="#444" stroke-width="0.8"/><line x1="319.10" y1="58.91" x2="320.60" y2="58.91" stroke="#444" stroke-width="0.7"/><line x1="540.90" y1="58.91" x2="539.40" y2="58.91" stroke="#444" stroke-width="0.7"/><line x1="319.10" y1="53.79" x2="320.60" y2="53.79" stroke="#444" stroke-width="0.7"/><line x1="540.90" y1="53.79" x2="539.40" y2="53.79" stroke="#444" stroke-width="0.7"/><line x1="319.10" y1="50.16" x2="320.60" y2="50.16" stroke="#444" stroke-width="0.7"/><line x1="540.90" y1="50.16" x2="539.40" y2="50.16" stroke="#444" stroke-width="0.7"/><line x1="319.10" y1="47.34" x2="320.60" y2="47.34" stroke="#444" stroke-width="0.7"/><line x1="540.90" y1="47.34" x2="539.40" y2="47.34" stroke="#444" stroke-width="0.7"/><line x1="319.10" y1="45.04" x2="320.60" y2="45.04" stroke="#444" stroke-width="0.7"/><line x1="540.90" y1="45.04" x2="539.40" y2="45.04" stroke="#444" stroke-width="0.7"/><line x1="319.10" y1="43.09" x2="320.60" y2="43.09" stroke="#444" stroke-width="0.7"/><line x1="540.90" y1="43.09" x2="539.40" y2="43.09" stroke="#444" stroke-width="0.7"/><line x1="319.10" y1="41.40" x2="320.60" y2="41.40" stroke="#444" stroke-width="0.7"/><line x1="540.90" y1="41.40" x2="539.40" y2="41.40" stroke="#444" stroke-width="0.7"/><line x1="319.10" y1="39.91" x2="320.60" y2="39.91" stroke="#444" stroke-width="0.7"/><line x1="540.90" y1="39.91" x2="539.40" y2="39.91" stroke="#444" stroke-width="0.7"/><line x1="319.10" y1="38.58" x2="321.40" y2="38.58" stroke="#444" stroke-width="0.8"/><line x1="540.90" y1="38.58" x2="538.60" y2="38.58" stroke="#444" stroke-width="0.8"/><line x1="319.10" y1="29.83" x2="320.60" y2="29.83" stroke="#444" stroke-width="0.7"/><line x1="540.90" y1="29.83" x2="539.40" y2="29.83" stroke="#444" stroke-width="0.7"/><line x1="319.10" y1="24.71" x2="320.60" y2="24.71" stroke="#444" stroke-width="0.7"/><line x1="540.90" y1="24.71" x2="539.40" y2="24.71" stroke="#444" stroke-width="0.7"/><line x1="319.10" y1="21.07" x2="320.60" y2="21.07" stroke="#444" stroke-width="0.7"/><line x1="540.90" y1="21.07" x2="539.40" y2="21.07" stroke="#444" stroke-width="0.7"/><line x1="319.10" y1="18.25" x2="320.60" y2="18.25" stroke="#444" stroke-width="0.7"/><line x1="540.90" y1="18.25" x2="539.40" y2="18.25" stroke="#444" stroke-width="0.7"/><line x1="319.10" y1="15.95" x2="320.60" y2="15.95" stroke="#444" stroke-width="0.7"/><line x1="540.90" y1="15.95" x2="539.40" y2="15.95" stroke="#444" stroke-width="0.7"/><line x1="319.10" y1="14.01" x2="320.60" y2="14.01" stroke="#444" stroke-width="0.7"/><line x1="540.90" y1="14.01" x2="539.40" y2="14.01" stroke="#444" stroke-width="0.7"/><line x1="319.10" y1="12.32" x2="320.60" y2="12.32" stroke="#444" stroke-width="0.7"/><line x1="540.90" y1="12.32" x2="539.40" y2="12.32" stroke="#444" stroke-width="0.7"/><line x1="319.10" y1="10.83" x2="320.60" y2="10.83" stroke="#444" stroke-width="0.7"/><line x1="540.90" y1="10.83" x2="539.40" y2="10.83" stroke="#444" stroke-width="0.7"/><line x1="319.10" y1="9.50" x2="321.40" y2="9.50" stroke="#444" stroke-width="0.8"/><line x1="540.90" y1="9.50" x2="538.60" y2="9.50" stroke="#444" stroke-width="0.8"/><text x="309.30" y="187.80" text-anchor="end" font-family="'Liberation Sans', Arial, Helvetica, sans-serif" font-weight="bold" fill="#333" stroke="#333" stroke-width="0.15" font-size="6.9" textLength="7.1" lengthAdjust="spacingAndGlyphs" transform="rotate(0.25 309.30 187.80)">10</text><text x="310.20" y="184.50" font-family="'Liberation Sans', Arial, Helvetica, sans-serif" font-weight="bold" fill="#888" font-size="5.3" transform="rotate(0.25 310.20 184.50)">-</text><text x="312.90" y="184.50" font-family="'Liberation Sans', Arial, Helvetica, sans-serif" font-weight="bold" fill="#333" stroke="#333" stroke-width="0.15" font-size="5.3" transform="rotate(0.25 312.90 184.50)">4</text><text x="309.30" y="158.72" text-anchor="end" font-family="'Liberation Sans', Arial, Helvetica, sans-serif" font-weight="bold" fill="#333" stroke="#333" stroke-width="0.15" font-size="6.9" textLength="7.1" lengthAdjust="spacingAndGlyphs" transform="rotate(0.25 309.30 158.72)">10</text><text x="310.20" y="155.42" font-family="'Liberation Sans', Arial, Helvetica, sans-serif" font-weight="bold" fill="#888" font-size="5.3" transform="rotate(0.25 310.20 155.42)">-</text><text x="312.90" y="155.42" font-family="'Liberation Sans', Arial, Helvetica, sans-serif" font-weight="bold" fill="#333" stroke="#333" stroke-width="0.15" font-size="5.3" transform="rotate(0.25 312.90 155.42)">3</text><text x="309.30" y="129.63" text-anchor="end" font-family="'Liberation Sans', Arial, Helvetica, sans-serif" font-weight="bold" fill="#333" stroke="#333" stroke-width="0.15" font-size="6.9" textLength="7.1" lengthAdjust="spacingAndGlyphs" transform="rotate(0.25 309.30 129.63)">10</text><text x="310.20" y="126.33" font-family="'Liberation Sans', Arial, Helvetica, sans-serif" font-weight="bold" fill="#888" font-size="5.3" transform="rotate(0.25 310.20 126.33)">-</text><text x="312.90" y="126.33" font-family="'Liberation Sans', Arial, Helvetica, sans-serif" font-weight="bold" fill="#333" stroke="#333" stroke-width="0.15" font-size="5.3" transform="rotate(0.25 312.90 126.33)">2</text><text x="309.30" y="100.55" text-anchor="end" font-family="'Liberation Sans', Arial, Helvetica, sans-serif" font-weight="bold" fill="#333" stroke="#333" stroke-width="0.15" font-size="6.9" textLength="7.1" lengthAdjust="spacingAndGlyphs" transform="rotate(0.25 309.30 100.55)">10</text><text x="310.20" y="97.25" font-family="'Liberation Sans', Arial, Helvetica, sans-serif" font-weight="bold" fill="#888" font-size="5.3" transform="rotate(0.25 310.20 97.25)">-</text><text x="312.90" y="97.25" font-family="'Liberation Sans', Arial, Helvetica, sans-serif" font-weight="bold" fill="#333" stroke="#333" stroke-width="0.15" font-size="5.3" transform="rotate(0.25 312.90 97.25)">1</text><text x="312.80" y="71.47" text-anchor="end" font-family="'Liberation Sans', Arial, Helvetica, sans-serif" font-weight="bold" fill="#333" stroke="#333" stroke-width="0.15" font-size="6.9" textLength="7.1" lengthAdjust="spacingAndGlyphs" transform="rotate(0.25 312.80 71.47)">10</text><text x="312.90" y="68.17" font-family="'Liberation Sans', Arial, Helvetica, sans-serif" font-weight="bold" fill="#333" stroke="#333" stroke-width="0.15" font-size="5.3" transform="rotate(0.25 312.90 68.17)">0</text><text x="312.80" y="42.38" text-anchor="end" font-family="'Liberation Sans', Arial, Helvetica, sans-serif" font-weight="bold" fill="#333" stroke="#333" stroke-width="0.15" font-size="6.9" textLength="7.1" lengthAdjust="spacingAndGlyphs" transform="rotate(0.25 312.80 42.38)">10</text><text x="312.90" y="39.08" font-family="'Liberation Sans', Arial, Helvetica, sans-serif" font-weight="bold" fill="#333" stroke="#333" stroke-width="0.15" font-size="5.3" transform="rotate(0.25 312.90 39.08)">1</text><text x="312.80" y="13.30" text-anchor="end" font-family="'Liberation Sans', Arial, Helvetica, sans-serif" font-weight="bold" fill="#333" stroke="#333" stroke-width="0.15" font-size="6.9" textLength="7.1" lengthAdjust="spacingAndGlyphs" transform="rotate(0.25 312.80 13.30)">10</text><text x="312.90" y="10.00" font-family="'Liberation Sans', Arial, Helvetica, sans-serif" font-weight="bold" fill="#333" stroke="#333" stroke-width="0.15" font-size="5.3" transform="rotate(0.25 312.90 10.00)">2</text><text x="318.80" y="194.00" text-anchor="middle" font-family="'Liberation Sans', Arial, Helvetica, sans-serif" font-weight="bold" font-size="6.9" fill="#2a2a2a" stroke="#2a2a2a" stroke-width="0.1" transform="rotate(0.25 318.80 194.00)"><tspan fill="#777">-</tspan><tspan dx="1.4">15</tspan></text><text x="355.77" y="194.00" text-anchor="middle" font-family="'Liberation Sans', Arial, Helvetica, sans-serif" font-weight="bold" font-size="6.9" fill="#2a2a2a" stroke="#2a2a2a" stroke-width="0.1" transform="rotate(0.25 355.77 194.00)"><tspan fill="#777">-</tspan><tspan dx="1.4">10</tspan></text><text x="392.73" y="194.00" text-anchor="middle" font-family="'Liberation Sans', Arial, Helvetica, sans-serif" font-weight="bold" font-size="6.9" fill="#2a2a2a" stroke="#2a2a2a" stroke-width="0.1" transform="rotate(0.25 392.73 194.00)"><tspan fill="#777">-</tspan><tspan dx="1.4">5</tspan></text><text x="430.00" y="194.00" text-anchor="middle" font-family="'Liberation Sans', Arial, Helvetica, sans-serif" font-weight="bold" font-size="6.9" fill="#2a2a2a" stroke="#2a2a2a" stroke-width="0.1" transform="rotate(0.25 430.00 194.00)">0</text><text x="466.97" y="194.00" text-anchor="middle" font-family="'Liberation Sans', Arial, Helvetica, sans-serif" font-weight="bold" font-size="6.9" fill="#2a2a2a" stroke="#2a2a2a" stroke-width="0.1" transform="rotate(0.25 466.97 194.00)">5</text><text x="503.93" y="194.00" text-anchor="middle" font-family="'Liberation Sans', Arial, Helvetica, sans-serif" font-weight="bold" font-size="6.9" fill="#2a2a2a" stroke="#2a2a2a" stroke-width="0.1" transform="rotate(0.25 503.93 194.00)">10</text><text x="540.90" y="194.00" text-anchor="middle" font-family="'Liberation Sans', Arial, Helvetica, sans-serif" font-weight="bold" font-size="6.9" fill="#2a2a2a" stroke="#2a2a2a" stroke-width="0.1" transform="rotate(0.25 540.90 194.00)">15</text><text x="430.00" y="206.60" text-anchor="middle" font-family="'Liberation Sans', Arial, Helvetica, sans-serif" font-weight="bold" font-size="10.4" fill="#2a2a2a" stroke="#2a2a2a" stroke-width="0.2" textLength="34.4" lengthAdjust="spacingAndGlyphs" transform="rotate(0.25 430.00 206.60)">SNR/dB</text><text transform="translate(297.20,96.75) rotate(-90)" text-anchor="middle" font-family="'Liberation Sans', Arial, Helvetica, sans-serif" font-weight="bold" font-size="9.9" fill="#1a1a1a" stroke="#1a1a1a" stroke-width="0.2" textLength="26.2" lengthAdjust="spacingAndGlyphs">RMSE</text><rect x="475.70" y="15.40" width="59.8" height="33.7" fill="#fff" stroke="#555" stroke-width="0.8"/><line x1="477.90" y1="20.00" x2="497.70" y2="20.00" stroke="#228e22" stroke-width="1.2"/><path d="M485.50,20.00 L489.75,17.70 L489.75,22.30Z" fill="none" stroke="#1d7a1d" stroke-width="1.0"/><text x="499.90" y="22.10" font-family="'Liberation Sans', Arial, Helvetica, sans-serif" font-weight="bold" font-size="6.2" fill="#222" stroke="#222" stroke-width="0.12" transform="rotate(0.25 499.90 22.10)">Vector-SBL</text><line x1="477.90" y1="28.00" x2="497.70" y2="28.00" stroke="#f77d70" stroke-width="0.9" stroke-dasharray="3.4 2.2"/><circle cx="487.80" cy="28.00" r="2.3" fill="none" stroke="#f77d70" stroke-width="0.9"/><text x="499.90" y="30.10" font-family="'Liberation Sans', Arial, Helvetica, sans-serif" font-weight="bold" font-size="6.2" fill="#222" stroke="#222" stroke-width="0.12" transform="rotate(0.25 499.90 30.10)">OMP</text><line x1="477.90" y1="36.00" x2="497.70" y2="36.00" stroke="#8fd45e" stroke-width="0.9" stroke-dasharray="3.4 2.2"/><circle cx="487.80" cy="36.00" r="1.9" fill="#8fd45e"/><text x="499.90" y="38.10" font-family="'Liberation Sans', Arial, Helvetica, sans-serif" font-weight="bold" font-size="6.2" fill="#222" stroke="#222" stroke-width="0.12" transform="rotate(0.25 499.90 38.10)">CBF</text><line x1="477.90" y1="44.00" x2="497.70" y2="44.00" stroke="#e8198a" stroke-width="0.9" stroke-dasharray="3.4 2.2"/><path d="M487.80,41.20 L488.49,43.05 L490.46,43.13 L488.92,44.36 L489.45,46.27 L487.80,45.18 L486.15,46.27 L486.68,44.36 L485.14,43.13 L487.11,43.05Z" fill="#e8198a" stroke="#e8198a" stroke-width="0.4"/><text x="499.90" y="46.10" font-family="'Liberation Sans', Arial, Helvetica, sans-serif" font-weight="bold" font-size="6.2" fill="#222" stroke="#222" stroke-width="0.12" transform="rotate(0.25 499.90 46.10)">MUSIC</text><text x="425.10" y="229.40" text-anchor="middle" font-family="'Liberation Serif', 'Times New Roman', serif" font-size="15.4" fill="#111" letter-spacing="0.3" transform="rotate(0.25 425.10 229.40)">(<tspan font-weight="bold" font-size="15.3">b</tspan>)</text><polyline points="176.00,279.80 190.77,275.50 205.53,275.00 220.30,317.40 235.07,321.10 249.83,324.30 264.60,327.20 279.37,329.90 294.13,331.60 308.90,333.30 323.67,334.80 338.43,336.00 353.20,336.90 367.97,337.50 382.73,338.10 397.50,338.60" fill="none" stroke="#f77d70" stroke-width="0.9" stroke-dasharray="3.4 2.2"/><circle cx="176.00" cy="279.80" r="2.3" fill="none" stroke="#f77d70" stroke-width="0.9"/><circle cx="190.77" cy="275.50" r="2.3" fill="none" stroke="#f77d70" stroke-width="0.9"/><circle cx="205.53" cy="275.00" r="2.3" fill="none" stroke="#f77d70" stroke-width="0.9"/><circle cx="220.30" cy="317.40" r="2.3" fill="none" stroke="#f77d70" stroke-width="0.9"/><circle cx="235.07" cy="321.10" r="2.3" fill="none" stroke="#f77d70" stroke-width="0.9"/><circle cx="249.83" cy="324.30" r="2.3" fill="none" stroke="#f77d70" stroke-width="0.9"/><circle cx="264.60" cy="327.20" r="2.3" fill="none" stroke="#f77d70" stroke-width="0.9"/><circle cx="279.37" cy="329.90" r="2.3" fill="none" stroke="#f77d70" stroke-width="0.9"/><circle cx="294.13" cy="331.60" r="2.3" fill="none" stroke="#f77d70" stroke-width="0.9"/><circle cx="308.90" cy="333.30" r="2.3" fill="none" stroke="#f77d70" stroke-width="0.9"/><circle cx="323.67" cy="334.80" r="2.3" fill="none" stroke="#f77d70" stroke-width="0.9"/><circle cx="338.43" cy="336.00" r="2.3" fill="none" stroke="#f77d70" stroke-width="0.9"/><circle cx="353.20" cy="336.90" r="2.3" fill="none" stroke="#f77d70" stroke-width="0.9"/><circle cx="367.97" cy="337.50" r="2.3" fill="none" stroke="#f77d70" stroke-width="0.9"/><circle cx="382.73" cy="338.10" r="2.3" fill="none" stroke="#f77d70" stroke-width="0.9"/><circle cx="397.50" cy="338.60" r="2.3" fill="none" stroke="#f77d70" stroke-width="0.9"/><polyline points="176.00,272.50 190.77,280.20 205.53,275.20 220.30,303.60 235.07,305.00 249.83,305.90 264.60,307.00 279.37,307.50 294.13,307.70 308.90,308.00 323.67,308.40 338.43,308.40 353.20,308.50 367.97,308.60 382.73,308.80 397.50,309.00" fill="none" stroke="#8fd45e" stroke-width="0.9" stroke-dasharray="3.4 2.2"/><circle cx="176.00" cy="272.50" r="1.9" fill="#8fd45e"/><circle cx="190.77" cy="280.20" r="1.9" fill="#8fd45e"/><circle cx="205.53" cy="275.20" r="1.9" fill="#8fd45e"/><circle cx="220.30" cy="303.60" r="1.9" fill="#8fd45e"/><circle cx="235.07" cy="305.00" r="1.9" fill="#8fd45e"/><circle cx="249.83" cy="305.90" r="1.9" fill="#8fd45e"/><circle cx="264.60" cy="307.00" r="1.9" fill="#8fd45e"/><circle cx="279.37" cy="307.50" r="1.9" fill="#8fd45e"/><circle cx="294.13" cy="307.70" r="1.9" fill="#8fd45e"/><circle cx="308.90" cy="308.00" r="1.9" fill="#8fd45e"/><circle cx="323.67" cy="308.40" r="1.9" fill="#8fd45e"/><circle cx="338.43" cy="308.40" r="1.9" fill="#8fd45e"/><circle cx="353.20" cy="308.50" r="1.9" fill="#8fd45e"/><circle cx="367.97" cy="308.60" r="1.9" fill="#8fd45e"/><circle cx="382.73" cy="308.80" r="1.9" fill="#8fd45e"/><circle cx="397.50" cy="309.00" r="1.9" fill="#8fd45e"/><polyline points="176.00,271.50 190.77,271.50 205.53,275.10 220.30,303.30 235.07,305.00 249.83,306.00 264.60,307.50 279.37,308.90 294.13,310.40 308.90,311.80 323.67,313.60 338.43,315.30 353.20,316.60 367.97,317.50 382.73,318.10 397.50,318.70" fill="none" stroke="#e8198a" stroke-width="1.1" stroke-dasharray="3.4 2.2"/><path d="M176.00,268.70 L176.69,270.55 L178.66,270.63 L177.12,271.86 L177.65,273.77 L176.00,272.68 L174.35,273.77 L174.88,271.86 L173.34,270.63 L175.31,270.55Z" fill="#e8198a" stroke="#e8198a" stroke-width="0.4"/><path d="M190.77,268.70 L191.46,270.55 L193.43,270.63 L191.89,271.86 L192.41,273.77 L190.77,272.68 L189.12,273.77 L189.65,271.86 L188.10,270.63 L190.08,270.55Z" fill="#e8198a" stroke="#e8198a" stroke-width="0.4"/><path d="M205.53,272.30 L206.22,274.15 L208.20,274.23 L206.65,275.46 L207.18,277.37 L205.53,276.28 L203.89,277.37 L204.41,275.46 L202.87,274.23 L204.84,274.15Z" fill="#e8198a" stroke="#e8198a" stroke-width="0.4"/><path d="M220.30,300.50 L220.99,302.35 L222.96,302.43 L221.42,303.66 L221.95,305.57 L220.30,304.48 L218.65,305.57 L219.18,303.66 L217.64,302.43 L219.61,302.35Z" fill="#e8198a" stroke="#e8198a" stroke-width="0.4"/><path d="M235.07,302.20 L235.76,304.05 L237.73,304.13 L236.19,305.36 L236.71,307.27 L235.07,306.18 L233.42,307.27 L233.95,305.36 L232.40,304.13 L234.38,304.05Z" fill="#e8198a" stroke="#e8198a" stroke-width="0.4"/><path d="M249.83,303.20 L250.52,305.05 L252.50,305.13 L250.95,306.36 L251.48,308.27 L249.83,307.18 L248.19,308.27 L248.71,306.36 L247.17,305.13 L249.14,305.05Z" fill="#e8198a" stroke="#e8198a" stroke-width="0.4"/><path d="M264.60,304.70 L265.29,306.55 L267.26,306.63 L265.72,307.86 L266.25,309.77 L264.60,308.68 L262.95,309.77 L263.48,307.86 L261.94,306.63 L263.91,306.55Z" fill="#e8198a" stroke="#e8198a" stroke-width="0.4"/><path d="M279.37,306.10 L280.06,307.95 L282.03,308.03 L280.49,309.26 L281.01,311.17 L279.37,310.08 L277.72,311.17 L278.25,309.26 L276.70,308.03 L278.68,307.95Z" fill="#e8198a" stroke="#e8198a" stroke-width="0.4"/><path d="M294.13,307.60 L294.82,309.45 L296.80,309.53 L295.25,310.76 L295.78,312.67 L294.13,311.58 L292.49,312.67 L293.01,310.76 L291.47,309.53 L293.44,309.45Z" fill="#e8198a" stroke="#e8198a" stroke-width="0.4"/><path d="M308.90,309.00 L309.59,310.85 L311.56,310.93 L310.02,312.16 L310.55,314.07 L308.90,312.98 L307.25,314.07 L307.78,312.16 L306.24,310.93 L308.21,310.85Z" fill="#e8198a" stroke="#e8198a" stroke-width="0.4"/><path d="M323.67,310.80 L324.36,312.65 L326.33,312.73 L324.79,313.96 L325.31,315.87 L323.67,314.78 L322.02,315.87 L322.55,313.96 L321.00,312.73 L322.98,312.65Z" fill="#e8198a" stroke="#e8198a" stroke-width="0.4"/><path d="M338.43,312.50 L339.12,314.35 L341.10,314.43 L339.55,315.66 L340.08,317.57 L338.43,316.48 L336.79,317.57 L337.31,315.66 L335.77,314.43 L337.74,314.35Z" fill="#e8198a" stroke="#e8198a" stroke-width="0.4"/><path d="M353.20,313.80 L353.89,315.65 L355.86,315.73 L354.32,316.96 L354.85,318.87 L353.20,317.78 L351.55,318.87 L352.08,316.96 L350.54,315.73 L352.51,315.65Z" fill="#e8198a" stroke="#e8198a" stroke-width="0.4"/><path d="M367.97,314.70 L368.66,316.55 L370.63,316.63 L369.09,317.86 L369.61,319.77 L367.97,318.68 L366.32,319.77 L366.85,317.86 L365.30,316.63 L367.28,316.55Z" fill="#e8198a" stroke="#e8198a" stroke-width="0.4"/><path d="M382.73,315.30 L383.42,317.15 L385.40,317.23 L383.85,318.46 L384.38,320.37 L382.73,319.28 L381.09,320.37 L381.61,318.46 L380.07,317.23 L382.04,317.15Z" fill="#e8198a" stroke="#e8198a" stroke-width="0.4"/><path d="M397.50,315.90 L398.19,317.75 L400.16,317.83 L398.62,319.06 L399.15,320.97 L397.50,319.88 L395.85,320.97 L396.38,319.06 L394.84,317.83 L396.81,317.75Z" fill="#e8198a" stroke="#e8198a" stroke-width="0.4"/><polyline points="176.00,314.00 190.77,320.95 205.53,327.91 220.30,334.86 235.07,341.81 249.83,348.77 264.60,355.72 279.37,362.67 294.13,369.63 308.90,376.58 323.67,383.53 338.43,390.49 353.20,397.44 367.97,404.39 382.73,411.35 397.50,418.30" fill="none" stroke="#228e22" stroke-width="1.2"/><path d="M173.70,314.00 L177.96,311.70 L177.96,316.30Z" fill="none" stroke="#1d7a1d" stroke-width="1.0"/><path d="M188.47,320.95 L192.72,318.65 L192.72,323.25Z" fill="none" stroke="#1d7a1d" stroke-width="1.0"/><path d="M203.23,327.91 L207.49,325.61 L207.49,330.21Z" fill="none" stroke="#1d7a1d" stroke-width="1.0"/><path d="M218.00,334.86 L222.26,332.56 L222.26,337.16Z" fill="none" stroke="#1d7a1d" stroke-width="1.0"/><path d="M232.77,341.81 L237.02,339.51 L237.02,344.11Z" fill="none" stroke="#1d7a1d" stroke-width="1.0"/><path d="M247.53,348.77 L251.79,346.47 L251.79,351.07Z" fill="none" stroke="#1d7a1d" stroke-width="1.0"/><path d="M262.30,355.72 L266.56,353.42 L266.56,358.02Z" fill="none" stroke="#1d7a1d" stroke-width="1.0"/><path d="M277.07,362.67 L281.32,360.37 L281.32,364.97Z" fill="none" stroke="#1d7a1d" stroke-width="1.0"/><path d="M291.83,369.63 L296.09,367.33 L296.09,371.93Z" fill="none" stroke="#1d7a1d" stroke-width="1.0"/><path d="M306.60,376.58 L310.85,374.28 L310.85,378.88Z" fill="none" stroke="#1d7a1d" stroke-width="1.0"/><path d="M321.37,383.53 L325.62,381.23 L325.62,385.83Z" fill="none" stroke="#1d7a1d" stroke-width="1.0"/><path d="M336.13,390.49 L340.39,388.19 L340.39,392.79Z" fill="none" stroke="#1d7a1d" stroke-width="1.0"/><path d="M350.90,397.44 L355.15,395.14 L355.15,399.74Z" fill="none" stroke="#1d7a1d" stroke-width="1.0"/><path d="M365.67,404.39 L369.92,402.09 L369.92,406.69Z" fill="none" stroke="#1d7a1d" stroke-width="1.0"/><path d="M380.43,411.35 L384.69,409.05 L384.69,413.65Z" fill="none" stroke="#1d7a1d" stroke-width="1.0"/><path d="M395.20,418.30 L399.45,416.00 L399.45,420.60Z" fill="none" stroke="#1d7a1d" stroke-width="1.0"/><rect x="176.00" y="250.15" width="221.75" height="173.95" fill="none" stroke="#909090" stroke-width="1.4"/><line x1="176.00" y1="424.10" x2="176.00" y2="421.80" stroke="#444" stroke-width="0.8"/><line x1="176.00" y1="250.00" x2="176.00" y2="252.30" stroke="#444" stroke-width="0.8"/><line x1="212.92" y1="424.10" x2="212.92" y2="421.80" stroke="#444" stroke-width="0.8"/><line x1="212.92" y1="250.00" x2="212.92" y2="252.30" stroke="#444" stroke-width="0.8"/><line x1="249.83" y1="424.10" x2="249.83" y2="421.80" stroke="#444" stroke-width="0.8"/><line x1="249.83" y1="250.00" x2="249.83" y2="252.30" stroke="#444" stroke-width="0.8"/><line x1="286.75" y1="424.10" x2="286.75" y2="421.80" stroke="#444" stroke-width="0.8"/><line x1="286.75" y1="250.00" x2="286.75" y2="252.30" stroke="#444" stroke-width="0.8"/><line x1="323.67" y1="424.10" x2="323.67" y2="421.80" stroke="#444" stroke-width="0.8"/><line x1="323.67" y1="250.00" x2="323.67" y2="252.30" stroke="#444" stroke-width="0.8"/><line x1="360.58" y1="424.10" x2="360.58" y2="421.80" stroke="#444" stroke-width="0.8"/><line x1="360.58" y1="250.00" x2="360.58" y2="252.30" stroke="#444" stroke-width="0.8"/><line x1="397.50" y1="424.10" x2="397.50" y2="421.80" stroke="#444" stroke-width="0.8"/><line x1="397.50" y1="250.00" x2="397.50" y2="252.30" stroke="#444" stroke-width="0.8"/><line x1="176.00" y1="424.10" x2="178.30" y2="424.10" stroke="#444" stroke-width="0.8"/><line x1="397.50" y1="424.10" x2="395.20" y2="424.10" stroke="#444" stroke-width="0.8"/><line x1="176.00" y1="413.62" x2="177.50" y2="413.62" stroke="#444" stroke-width="0.7"/><line x1="397.50" y1="413.62" x2="396.00" y2="413.62" stroke="#444" stroke-width="0.7"/><line x1="176.00" y1="407.49" x2="177.50" y2="407.49" stroke="#444" stroke-width="0.7"/><line x1="397.50" y1="407.49" x2="396.00" y2="407.49" stroke="#444" stroke-width="0.7"/><line x1="176.00" y1="403.14" x2="177.50" y2="403.14" stroke="#444" stroke-width="0.7"/><line x1="397.50" y1="403.14" x2="396.00" y2="403.14" stroke="#444" stroke-width="0.7"/><line x1="176.00" y1="399.76" x2="177.50" y2="399.76" stroke="#444" stroke-width="0.7"/><line x1="397.50" y1="399.76" x2="396.00" y2="399.76" stroke="#444" stroke-width="0.7"/><line x1="176.00" y1="397.00" x2="177.50" y2="397.00" stroke="#444" stroke-width="0.7"/><line x1="397.50" y1="397.00" x2="396.00" y2="397.00" stroke="#444" stroke-width="0.7"/><line x1="176.00" y1="394.67" x2="177.50" y2="394.67" stroke="#444" stroke-width="0.7"/><line x1="397.50" y1="394.67" x2="396.00" y2="394.67" stroke="#444" stroke-width="0.7"/><line x1="176.00" y1="392.65" x2="177.50" y2="392.65" stroke="#444" stroke-width="0.7"/><line x1="397.50" y1="392.65" x2="396.00" y2="392.65" stroke="#444" stroke-width="0.7"/><line x1="176.00" y1="390.87" x2="177.50" y2="390.87" stroke="#444" stroke-width="0.7"/><line x1="397.50" y1="390.87" x2="396.00" y2="390.87" stroke="#444" stroke-width="0.7"/><line x1="176.00" y1="389.28" x2="178.30" y2="389.28" stroke="#444" stroke-width="0.8"/><line x1="397.50" y1="389.28" x2="395.20" y2="389.28" stroke="#444" stroke-width="0.8"/><line x1="176.00" y1="378.80" x2="177.50" y2="378.80" stroke="#444" stroke-width="0.7"/><line x1="397.50" y1="378.80" x2="396.00" y2="378.80" stroke="#444" stroke-width="0.7"/><line x1="176.00" y1="372.67" x2="177.50" y2="372.67" stroke="#444" stroke-width="0.7"/><line x1="397.50" y1="372.67" x2="396.00" y2="372.67" stroke="#444" stroke-width="0.7"/><line x1="176.00" y1="368.32" x2="177.50" y2="368.32" stroke="#444" stroke-width="0.7"/><line x1="397.50" y1="368.32" x2="396.00" y2="368.32" stroke="#444" stroke-width="0.7"/><line x1="176.00" y1="364.94" x2="177.50" y2="364.94" stroke="#444" stroke-width="0.7"/><line x1="397.50" y1="364.94" x2="396.00" y2="364.94" stroke="#444" stroke-width="0.7"/><line x1="176.00" y1="362.18" x2="177.50" y2="362.18" stroke="#444" stroke-width="0.7"/><line x1="397.50" y1="362.18" x2="396.00" y2="362.18" stroke="#444" stroke-width="0.7"/><line x1="176.00" y1="359.85" x2="177.50" y2="359.85" stroke="#444" stroke-width="0.7"/><line x1="397.50" y1="359.85" x2="396.00" y2="359.85" stroke="#444" stroke-width="0.7"/><line x1="176.00" y1="357.83" x2="177.50" y2="357.83" stroke="#444" stroke-width="0.7"/><line x1="397.50" y1="357.83" x2="396.00" y2="357.83" stroke="#444" stroke-width="0.7"/><line x1="176.00" y1="356.05" x2="177.50" y2="356.05" stroke="#444" stroke-width="0.7"/><line x1="397.50" y1="356.05" x2="396.00" y2="356.05" stroke="#444" stroke-width="0.7"/><line x1="176.00" y1="354.46" x2="178.30" y2="354.46" stroke="#444" stroke-width="0.8"/><line x1="397.50" y1="354.46" x2="395.20" y2="354.46" stroke="#444" stroke-width="0.8"/><line x1="176.00" y1="343.98" x2="177.50" y2="343.98" stroke="#444" stroke-width="0.7"/><line x1="397.50" y1="343.98" x2="396.00" y2="343.98" stroke="#444" stroke-width="0.7"/><line x1="176.00" y1="337.85" x2="177.50" y2="337.85" stroke="#444" stroke-width="0.7"/><line x1="397.50" y1="337.85" x2="396.00" y2="337.85" stroke="#444" stroke-width="0.7"/><line x1="176.00" y1="333.50" x2="177.50" y2="333.50" stroke="#444" stroke-width="0.7"/><line x1="397.50" y1="333.50" x2="396.00" y2="333.50" stroke="#444" stroke-width="0.7"/><line x1="176.00" y1="330.12" x2="177.50" y2="330.12" stroke="#444" stroke-width="0.7"/><line x1="397.50" y1="330.12" x2="396.00" y2="330.12" stroke="#444" stroke-width="0.7"/><line x1="176.00" y1="327.36" x2="177.50" y2="327.36" stroke="#444" stroke-width="0.7"/><line x1="397.50" y1="327.36" x2="396.00" y2="327.36" stroke="#444" stroke-width="0.7"/><line x1="176.00" y1="325.03" x2="177.50" y2="325.03" stroke="#444" stroke-width="0.7"/><line x1="397.50" y1="325.03" x2="396.00" y2="325.03" stroke="#444" stroke-width="0.7"/><line x1="176.00" y1="323.01" x2="177.50" y2="323.01" stroke="#444" stroke-width="0.7"/><line x1="397.50" y1="323.01" x2="396.00" y2="323.01" stroke="#444" stroke-width="0.7"/><line x1="176.00" y1="321.23" x2="177.50" y2="321.23" stroke="#444" stroke-width="0.7"/><line x1="397.50" y1="321.23" x2="396.00" y2="321.23" stroke="#444" stroke-width="0.7"/><line x1="176.00" y1="319.64" x2="178.30" y2="319.64" stroke="#444" stroke-width="0.8"/><line x1="397.50" y1="319.64" x2="395.20" y2="319.64" stroke="#444" stroke-width="0.8"/><line x1="176.00" y1="309.16" x2="177.50" y2="309.16" stroke="#444" stroke-width="0.7"/><line x1="397.50" y1="309.16" x2="396.00" y2="309.16" stroke="#444" stroke-width="0.7"/><line x1="176.00" y1="303.03" x2="177.50" y2="303.03" stroke="#444" stroke-width="0.7"/><line x1="397.50" y1="303.03" x2="396.00" y2="303.03" stroke="#444" stroke-width="0.7"/><line x1="176.00" y1="298.68" x2="177.50" y2="298.68" stroke="#444" stroke-width="0.7"/><line x1="397.50" y1="298.68" x2="396.00" y2="298.68" stroke="#444" stroke-width="0.7"/><line x1="176.00" y1="295.30" x2="177.50" y2="295.30" stroke="#444" stroke-width="0.7"/><line x1="397.50" y1="295.30" x2="396.00" y2="295.30" stroke="#444" stroke-width="0.7"/><line x1="176.00" y1="292.54" x2="177.50" y2="292.54" stroke="#444" stroke-width="0.7"/><line x1="397.50" y1="292.54" x2="396.00" y2="292.54" stroke="#444" stroke-width="0.7"/><line x1="176.00" y1="290.21" x2="177.50" y2="290.21" stroke="#444" stroke-width="0.7"/><line x1="397.50" y1="290.21" x2="396.00" y2="290.21" stroke="#444" stroke-width="0.7"/><line x1="176.00" y1="288.19" x2="177.50" y2="288.19" stroke="#444" stroke-width="0.7"/><line x1="397.50" y1="288.19" x2="396.00" y2="288.19" stroke="#444" stroke-width="0.7"/><line x1="176.00" y1="286.41" x2="177.50" y2="286.41" stroke="#444" stroke-width="0.7"/><line x1="397.50" y1="286.41" x2="396.00" y2="286.41" stroke="#444" stroke-width="0.7"/><line x1="176.00" y1="284.82" x2="178.30" y2="284.82" stroke="#444" stroke-width="0.8"/><line x1="397.50" y1="284.82" x2="395.20" y2="284.82" stroke="#444" stroke-width="0.8"/><line x1="176.00" y1="274.34" x2="177.50" y2="274.34" stroke="#444" stroke-width="0.7"/><line x1="397.50" y1="274.34" x2="396.00" y2="274.34" stroke="#444" stroke-width="0.7"/><line x1="176.00" y1="268.21" x2="177.50" y2="268.21" stroke="#444" stroke-width="0.7"/><line x1="397.50" y1="268.21" x2="396.00" y2="268.21" stroke="#444" stroke-width="0.7"/><line x1="176.00" y1="263.86" x2="177.50" y2="263.86" stroke="#444" stroke-width="0.7"/><line x1="397.50" y1="263.86" x2="396.00" y2="263.86" stroke="#444" stroke-width="0.7"/><line x1="176.00" y1="260.48" x2="177.50" y2="260.48" stroke="#444" stroke-width="0.7"/><line x1="397.50" y1="260.48" x2="396.00" y2="260.48" stroke="#444" stroke-width="0.7"/><line x1="176.00" y1="257.72" x2="177.50" y2="257.72" stroke="#444" stroke-width="0.7"/><line x1="397.50" y1="257.72" x2="396.00" y2="257.72" stroke="#444" stroke-width="0.7"/><line x1="176.00" y1="255.39" x2="177.50" y2="255.39" stroke="#444" stroke-width="0.7"/><line x1="397.50" y1="255.39" x2="396.00" y2="255.39" stroke="#444" stroke-width="0.7"/><line x1="176.00" y1="253.37" x2="177.50" y2="253.37" stroke="#444" stroke-width="0.7"/><line x1="397.50" y1="253.37" x2="396.00" y2="253.37" stroke="#444" stroke-width="0.7"/><line x1="176.00" y1="251.59" x2="177.50" y2="251.59" stroke="#444" stroke-width="0.7"/><line x1="397.50" y1="251.59" x2="396.00" y2="251.59" stroke="#444" stroke-width="0.7"/><line x1="176.00" y1="250.00" x2="178.30" y2="250.00" stroke="#444" stroke-width="0.8"/><line x1="397.50" y1="250.00" x2="395.20" y2="250.00" stroke="#444" stroke-width="0.8"/><text x="166.20" y="427.90" text-anchor="end" font-family="'Liberation Sans', Arial, Helvetica, sans-serif" font-weight="bold" fill="#333" stroke="#333" stroke-width="0.15" font-size="6.9" textLength="7.1" lengthAdjust="spacingAndGlyphs" transform="rotate(0.25 166.20 427.90)">10</text><text x="167.10" y="424.60" font-family="'Liberation Sans', Arial, Helvetica, sans-serif" font-weight="bold" fill="#888" font-size="5.3" transform="rotate(0.25 167.10 424.60)">-</text><text x="169.80" y="424.60" font-family="'Liberation Sans', Arial, Helvetica, sans-serif" font-weight="bold" fill="#333" stroke="#333" stroke-width="0.15" font-size="5.3" transform="rotate(0.25 169.80 424.60)">3</text><text x="166.20" y="393.08" text-anchor="end" font-family="'Liberation Sans', Arial, Helvetica, sans-serif" font-weight="bold" fill="#333" stroke="#333" stroke-width="0.15" font-size="6.9" textLength="7.1" lengthAdjust="spacingAndGlyphs" transform="rotate(0.25 166.20 393.08)">10</text><text x="167.10" y="389.78" font-family="'Liberation Sans', Arial, Helvetica, sans-serif" font-weight="bold" fill="#888" font-size="5.3" transform="rotate(0.25 167.10 389.78)">-</text><text x="169.80" y="389.78" font-family="'Liberation Sans', Arial, Helvetica, sans-serif" font-weight="bold" fill="#333" stroke="#333" stroke-width="0.15" font-size="5.3" transform="rotate(0.25 169.80 389.78)">2</text><text x="166.20" y="358.26" text-anchor="end" font-family="'Liberation Sans', Arial, Helvetica, sans-serif" font-weight="bold" fill="#333" stroke="#333" stroke-width="0.15" font-size="6.9" textLength="7.1" lengthAdjust="spacingAndGlyphs" transform="rotate(0.25 166.20 358.26)">10</text><text x="167.10" y="354.96" font-family="'Liberation Sans', Arial, Helvetica, sans-serif" font-weight="bold" fill="#888" font-size="5.3" transform="rotate(0.25 167.10 354.96)">-</text><text x="169.80" y="354.96" font-family="'Liberation Sans', Arial, Helvetica, sans-serif" font-weight="bold" fill="#333" stroke="#333" stroke-width="0.15" font-size="5.3" transform="rotate(0.25 169.80 354.96)">1</text><text x="169.70" y="323.44" text-anchor="end" font-family="'Liberation Sans', Arial, Helvetica, sans-serif" font-weight="bold" fill="#333" stroke="#333" stroke-width="0.15" font-size="6.9" textLength="7.1" lengthAdjust="spacingAndGlyphs" transform="rotate(0.25 169.70 323.44)">10</text><text x="169.80" y="320.14" font-family="'Liberation Sans', Arial, Helvetica, sans-serif" font-weight="bold" fill="#333" stroke="#333" stroke-width="0.15" font-size="5.3" transform="rotate(0.25 169.80 320.14)">0</text><text x="169.70" y="288.62" text-anchor="end" font-family="'Liberation Sans', Arial, Helvetica, sans-serif" font-weight="bold" fill="#333" stroke="#333" stroke-width="0.15" font-size="6.9" textLength="7.1" lengthAdjust="spacingAndGlyphs" transform="rotate(0.25 169.70 288.62)">10</text><text x="169.80" y="285.32" font-family="'Liberation Sans', Arial, Helvetica, sans-serif" font-weight="bold" fill="#333" stroke="#333" stroke-width="0.15" font-size="5.3" transform="rotate(0.25 169.80 285.32)">1</text><text x="169.70" y="253.80" text-anchor="end" font-family="'Liberation Sans', Arial, Helvetica, sans-serif" font-weight="bold" fill="#333" stroke="#333" stroke-width="0.15" font-size="6.9" textLength="7.1" lengthAdjust="spacingAndGlyphs" transform="rotate(0.25 169.70 253.80)">10</text><text x="169.80" y="250.50" font-family="'Liberation Sans', Arial, Helvetica, sans-serif" font-weight="bold" fill="#333" stroke="#333" stroke-width="0.15" font-size="5.3" transform="rotate(0.25 169.80 250.50)">2</text><text x="175.70" y="434.10" text-anchor="middle" font-family="'Liberation Sans', Arial, Helvetica, sans-serif" font-weight="bold" font-size="6.9" fill="#2a2a2a" stroke="#2a2a2a" stroke-width="0.1" transform="rotate(0.25 175.70 434.10)"><tspan fill="#777">-</tspan><tspan dx="1.4">15</tspan></text><text x="212.62" y="434.10" text-anchor="middle" font-family="'Liberation Sans', Arial, Helvetica, sans-serif" font-weight="bold" font-size="6.9" fill="#2a2a2a" stroke="#2a2a2a" stroke-width="0.1" transform="rotate(0.25 212.62 434.10)"><tspan fill="#777">-</tspan><tspan dx="1.4">10</tspan></text><text x="249.53" y="434.10" text-anchor="middle" font-family="'Liberation Sans', Arial, Helvetica, sans-serif" font-weight="bold" font-size="6.9" fill="#2a2a2a" stroke="#2a2a2a" stroke-width="0.1" transform="rotate(0.25 249.53 434.10)"><tspan fill="#777">-</tspan><tspan dx="1.4">5</tspan></text><text x="286.75" y="434.10" text-anchor="middle" font-family="'Liberation Sans', Arial, Helvetica, sans-serif" font-weight="bold" font-size="6.9" fill="#2a2a2a" stroke="#2a2a2a" stroke-width="0.1" transform="rotate(0.25 286.75 434.10)">0</text><text x="323.67" y="434.10" text-anchor="middle" font-family="'Liberation Sans', Arial, Helvetica, sans-serif" font-weight="bold" font-size="6.9" fill="#2a2a2a" stroke="#2a2a2a" stroke-width="0.1" transform="rotate(0.25 323.67 434.10)">5</text><text x="360.58" y="434.10" text-anchor="middle" font-family="'Liberation Sans', Arial, Helvetica, sans-serif" font-weight="bold" font-size="6.9" fill="#2a2a2a" stroke="#2a2a2a" stroke-width="0.1" transform="rotate(0.25 360.58 434.10)">10</text><text x="397.50" y="434.10" text-anchor="middle" font-family="'Liberation Sans', Arial, Helvetica, sans-serif" font-weight="bold" font-size="6.9" fill="#2a2a2a" stroke="#2a2a2a" stroke-width="0.1" transform="rotate(0.25 397.50 434.10)">15</text><text x="286.75" y="446.70" text-anchor="middle" font-family="'Liberation Sans', Arial, Helvetica, sans-serif" font-weight="bold" font-size="10.4" fill="#2a2a2a" stroke="#2a2a2a" stroke-width="0.2" textLength="34.4" lengthAdjust="spacingAndGlyphs" transform="rotate(0.25 286.75 446.70)">SNR/dB</text><text transform="translate(155.20,337.05) rotate(-90)" text-anchor="middle" font-family="'Liberation Sans', Arial, Helvetica, sans-serif" font-weight="bold" font-size="9.9" fill="#1a1a1a" stroke="#1a1a1a" stroke-width="0.2" textLength="26.2" lengthAdjust="spacingAndGlyphs">RMSE</text><rect x="332.50" y="255.50" width="59.8" height="33.7" fill="#fff" stroke="#555" stroke-width="0.8"/><line x1="334.70" y1="260.10" x2="354.50" y2="260.10" stroke="#228e22" stroke-width="1.2"/><path d="M342.30,260.10 L346.56,257.80 L346.56,262.40Z" fill="none" stroke="#1d7a1d" stroke-width="1.0"/><text x="356.70" y="262.20" font-family="'Liberation Sans', Arial, Helvetica, sans-serif" font-weight="bold" font-size="6.2" fill="#222" stroke="#222" stroke-width="0.12" transform="rotate(0.25 356.70 262.20)">Vector-SBL</text><line x1="334.70" y1="268.10" x2="354.50" y2="268.10" stroke="#f77d70" stroke-width="0.9" stroke-dasharray="3.4 2.2"/><circle cx="344.60" cy="268.10" r="2.3" fill="none" stroke="#f77d70" stroke-width="0.9"/><text x="356.70" y="270.20" font-family="'Liberation Sans', Arial, Helvetica, sans-serif" font-weight="bold" font-size="6.2" fill="#222" stroke="#222" stroke-width="0.12" transform="rotate(0.25 356.70 270.20)">OMP</text><line x1="334.70" y1="276.10" x2="354.50" y2="276.10" stroke="#8fd45e" stroke-width="0.9" stroke-dasharray="3.4 2.2"/><circle cx="344.60" cy="276.10" r="1.9" fill="#8fd45e"/><text x="356.70" y="278.20" font-family="'Liberation Sans', Arial, Helvetica, sans-serif" font-weight="bold" font-size="6.2" fill="#222" stroke="#222" stroke-width="0.12" transform="rotate(0.25 356.70 278.20)">CBF</text><line x1="334.70" y1="284.10" x2="354.50" y2="284.10" stroke="#e8198a" stroke-width="0.9" stroke-dasharray="3.4 2.2"/><path d="M344.60,281.30 L345.29,283.15 L347.26,283.23 L345.72,284.46 L346.25,286.37 L344.60,285.28 L342.95,286.37 L343.48,284.46 L341.94,283.23 L343.91,283.15Z" fill="#e8198a" stroke="#e8198a" stroke-width="0.4"/><text x="356.70" y="286.20" font-family="'Liberation Sans', Arial, Helvetica, sans-serif" font-weight="bold" font-size="6.2" fill="#222" stroke="#222" stroke-width="0.12" transform="rotate(0.25 356.70 286.20)">MUSIC</text><text x="281.80" y="464.30" text-anchor="middle" font-family="'Liberation Serif', 'Times New Roman', serif" font-size="15.4" fill="#111" letter-spacing="0.3" transform="rotate(0.25 281.80 464.30)">(<tspan font-weight="bold" font-size="15.3">c</tspan>)</text></svg>
</body></html>
